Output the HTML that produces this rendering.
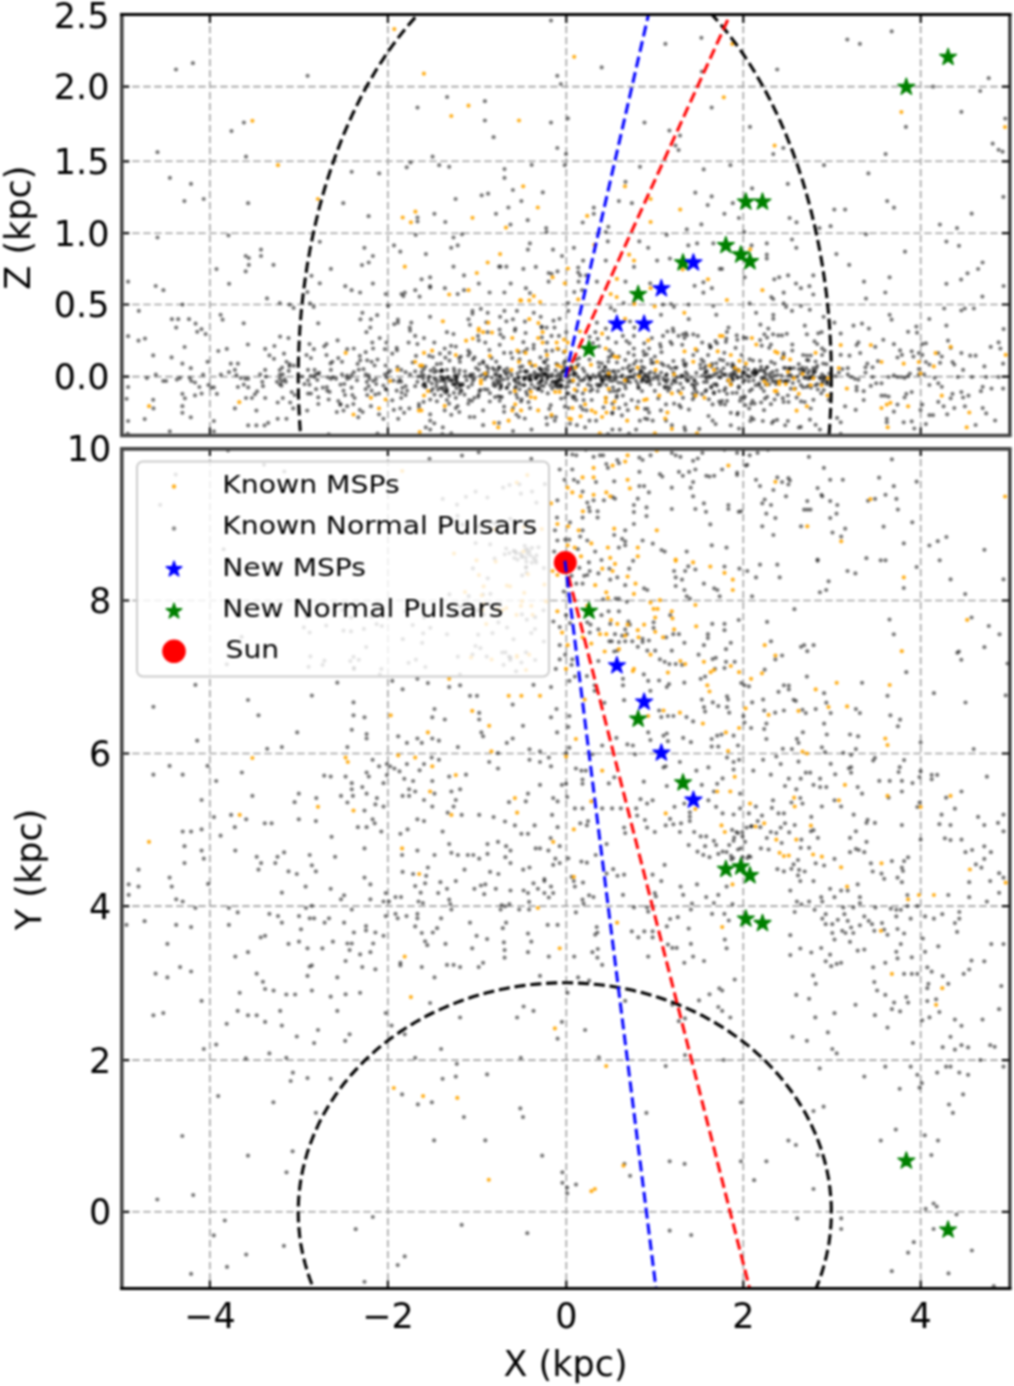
<!DOCTYPE html><html><head><meta charset="utf-8"><style>html,body{margin:0;padding:0;background:#fff;width:1014px;height:1386px;overflow:hidden}svg{display:block;filter:blur(0.8px)}text{font-family:'DejaVu Sans', 'Liberation Sans', sans-serif;fill:#000}.g{stroke:rgba(0,0,0,0.52);stroke-width:4.2;stroke-linecap:round;fill:none}.o{stroke:rgba(255,165,0,0.88);stroke-width:4.2;stroke-linecap:round;fill:none}.grid{stroke:#a2a2a2;stroke-width:1.6;stroke-dasharray:7.3 3.7;fill:none}.sp{stroke:#333;stroke-width:2.4;fill:none}.tk{stroke:#111;stroke-width:2.2;fill:none}.tl{font-size:35px}.lg{font-size:24.5px}</style></head><body><svg width="1014" height="1386" viewBox="0 0 1014 1386"><rect width="1014" height="1386" fill="#fff"/><defs><clipPath id="ct"><rect x="121.3" y="14.9" width="888.5" height="420.5"/></clipPath><clipPath id="cb"><rect x="121.3" y="448" width="888.5" height="840.4"/></clipPath></defs><g clip-path="url(#ct)"><path class="grid" d="M209.9 14.9V435.4M387.9 14.9V435.4M566.3 14.9V435.4M743.3 14.9V435.4M920.7 14.9V435.4M121.3 376.6H1009.9M121.3 304.5H1009.9M121.3 233.2H1009.9M121.3 161.3H1009.9M121.3 86.6H1009.9"/><g class="g"><path d="M176 69.5h0"/><path d="M192.9 63.2h0"/><path d="M307.6 75.8h0"/><path d="M243.9 122.6h0"/><path d="M231.5 131.1h0"/><path d="M157.5 152.2h0"/><path d="M246 156.7h0"/><path d="M169.9 177.9h0"/><path d="M191 183.9h0"/><path d="M184.4 201.1h0"/><path d="M203.7 199h0"/><path d="M248.1 203.2h0"/><path d="M351.7 171.8h0"/><path d="M379.2 173.4h0"/><path d="M343.3 203.2h0"/><path d="M368.6 216.2h0"/><path d="M551 20.6h0"/><path d="M601.7 67.4h0"/><path d="M557.3 75.8h0"/><path d="M560.8 84h0"/><path d="M447.1 97h0"/><path d="M417.5 107.6h0"/><path d="M484.9 101.2h0"/><path d="M484.9 120.5h0"/><path d="M551 122.6h0"/><path d="M567.9 118.4h0"/><path d="M493.6 137.2h0"/><path d="M557.3 148h0"/><path d="M566 154.1h0"/><path d="M432.6 156.7h0"/><path d="M410.6 162.5h0"/><path d="M406.7 167.3h0"/><path d="M439.2 165.2h0"/><path d="M449.2 166.8h0"/><path d="M531.7 164.9h0"/><path d="M564.7 165.2h0"/><path d="M504.5 169.1h0"/><path d="M504.5 177.9h0"/><path d="M640 166.8h0"/><path d="M644.5 122.6h0"/><path d="M625.5 181.8h0"/><path d="M512.9 190h0"/><path d="M542.8 192.4h0"/><path d="M481.7 195.3h0"/><path d="M488.1 193.7h0"/><path d="M455.6 199h0"/><path d="M521.4 201.1h0"/><path d="M508.4 207.5h0"/><path d="M618.9 201.1h0"/><path d="M631.9 203.2h0"/><path d="M434.4 213.8h0"/><path d="M496 213.8h0"/><path d="M417.5 217.5h0"/><path d="M417.5 221.5h0"/><path d="M445.3 222h0"/><path d="M527.7 220.2h0"/><path d="M593.8 207.7h0"/><path d="M593.8 213.8h0"/><path d="M582.7 222.5h0"/><path d="M510.5 224.6h0"/><path d="M546.2 228.1h0"/><path d="M608.3 226.8h0"/><path d="M665.4 43.9h0"/><path d="M701.4 37.8h0"/><path d="M701.9 71.6h0"/><path d="M777.2 69.5h0"/><path d="M847.3 39.6h0"/><path d="M859.9 43.9h0"/><path d="M891.7 31.4h0"/><path d="M711.7 107.6h0"/><path d="M669.4 130.6h0"/><path d="M680 135.6h0"/><path d="M675.5 145.6h0"/><path d="M678.6 150.1h0"/><path d="M750 126.9h0"/><path d="M783.3 148h0"/><path d="M773.3 154.1h0"/><path d="M885.6 154.1h0"/><path d="M905.9 126.9h0"/><path d="M703.7 169.4h0"/><path d="M730.4 165.2h0"/><path d="M824 165.2h0"/><path d="M868.4 173.4h0"/><path d="M787.8 183.9h0"/><path d="M752.1 188.4h0"/><path d="M695.3 192.7h0"/><path d="M711.7 196.4h0"/><path d="M707.7 205.1h0"/><path d="M732.8 203.2h0"/><path d="M724.4 213.8h0"/><path d="M738.9 218h0"/><path d="M701.4 224.4h0"/><path d="M686.8 229.4h0"/><path d="M789.6 218h0"/><path d="M796.5 222.3h0"/><path d="M834.3 209.6h0"/><path d="M845.1 209.6h0"/><path d="M830.6 226.2h0"/><path d="M887.2 201.1h0"/><path d="M894 207.7h0"/><path d="M819.5 228.1h0"/><path d="M933.1 86.7h0"/><path d="M988.7 78.2h0"/><path d="M980.2 91h0"/><path d="M961.4 111.9h0"/><path d="M1005.3 118.6h0"/><path d="M992.7 143.7h0"/><path d="M998.6 149.8h0"/><path d="M1002.6 151.7h0"/><path d="M1003.4 196.9h0"/><path d="M971.7 213.7h0"/><path d="M939.9 224.6h0"/><path d="M957 228.1h0"/><path d="M157.5 237.5h0"/><path d="M228.5 235.5h0"/><path d="M261 249.7h0"/><path d="M245.7 256h0"/><path d="M248.8 258h0"/><path d="M261 256h0"/><path d="M248.8 264.9h0"/><path d="M273.5 264.9h0"/><path d="M216.5 269.1h0"/><path d="M245.7 271.4h0"/><path d="M128.1 281.7h0"/><path d="M155.7 286h0"/><path d="M163.4 290.2h0"/><path d="M229.1 283.8h0"/><path d="M311.5 275.8h0"/><path d="M307.4 292.1h0"/><path d="M267 298.4h0"/><path d="M279.8 303h0"/><path d="M182.5 304.6h0"/><path d="M310 303.4h0"/><path d="M289.6 304.6h0"/><path d="M293.6 307.9h0"/><path d="M138.8 310.9h0"/><path d="M220.6 314.8h0"/><path d="M222.6 319.7h0"/><path d="M171.9 319.2h0"/><path d="M178.2 319.2h0"/><path d="M189 319.2h0"/><path d="M195.6 323.7h0"/><path d="M176.2 327.6h0"/><path d="M201.5 329.2h0"/><path d="M243.7 323.3h0"/><path d="M318.2 323.3h0"/><path d="M319.8 283.3h0"/><path d="M319.8 241.8h0"/><path d="M364.4 247.8h0"/><path d="M372.9 256h0"/><path d="M368.7 262.5h0"/><path d="M362 265.1h0"/><path d="M330.9 268.9h0"/><path d="M345.3 286.2h0"/><path d="M351.6 290.2h0"/><path d="M360.1 292.5h0"/><path d="M372.9 283.6h0"/><path d="M385.7 294.1h0"/><path d="M394 245.4h0"/><path d="M400.3 251.7h0"/><path d="M415.7 234.9h0"/><path d="M425.9 254.1h0"/><path d="M453.5 237.5h0"/><path d="M462 234.3h0"/><path d="M451.2 247.8h0"/><path d="M457.7 245.4h0"/><path d="M453.5 266.7h0"/><path d="M464 275.4h0"/><path d="M421.6 279.3h0"/><path d="M430.1 277.3h0"/><path d="M430.1 286.2h0"/><path d="M430.1 287.6h0"/><path d="M444.9 288.2h0"/><path d="M415.3 290.2h0"/><path d="M419.6 296.7h0"/><path d="M401.5 294.1h0"/><path d="M403.4 296.1h0"/><path d="M404.8 292.7h0"/><path d="M457.7 294.1h0"/><path d="M464 290.2h0"/><path d="M478.8 283.6h0"/><path d="M489.6 292.5h0"/><path d="M499.1 266.7h0"/><path d="M500.5 266.7h0"/><path d="M506.4 266.7h0"/><path d="M510.7 283.6h0"/><path d="M504.4 292.5h0"/><path d="M388.1 305.9h0"/><path d="M362.4 312.8h0"/><path d="M377.2 315.2h0"/><path d="M360.4 319.3h0"/><path d="M370.9 319.3h0"/><path d="M397.9 319.7h0"/><path d="M397.9 322.7h0"/><path d="M411.3 322.7h0"/><path d="M409.8 327.6h0"/><path d="M430.1 316.8h0"/><path d="M468.5 319.3h0"/><path d="M472.5 310.9h0"/><path d="M472.5 313.8h0"/><path d="M480.8 308.9h0"/><path d="M487.7 312.8h0"/><path d="M486.3 322.3h0"/><path d="M500.1 316.8h0"/><path d="M504.4 310.9h0"/><path d="M506.4 321.3h0"/><path d="M512.9 319.3h0"/><path d="M516.9 310.9h0"/><path d="M370.3 327.6h0"/><path d="M515.3 328.6h0"/><path d="M546.6 232h0"/><path d="M529.9 243.4h0"/><path d="M527.9 249.7h0"/><path d="M553 249.7h0"/><path d="M562 256h0"/><path d="M573.9 247.8h0"/><path d="M583.1 260.6h0"/><path d="M523.4 268.9h0"/><path d="M535.8 266.9h0"/><path d="M548.6 273h0"/><path d="M551.6 273.8h0"/><path d="M557.5 271.4h0"/><path d="M578.2 267.5h0"/><path d="M578.2 272.4h0"/><path d="M580.2 275.4h0"/><path d="M586.1 275.4h0"/><path d="M548.6 281.7h0"/><path d="M578.6 281.7h0"/><path d="M596.9 281.7h0"/><path d="M525.9 288.2h0"/><path d="M529.9 293.1h0"/><path d="M574.3 292.1h0"/><path d="M582.1 290.2h0"/><path d="M605.8 232h0"/><path d="M607.8 241.4h0"/><path d="M605.8 260.6h0"/><path d="M639.3 241.4h0"/><path d="M648.2 247.8h0"/><path d="M657.1 260.6h0"/><path d="M669.9 258.6h0"/><path d="M666.6 234.9h0"/><path d="M688.3 245.4h0"/><path d="M697.1 243.4h0"/><path d="M713.3 243.4h0"/><path d="M719.8 268.9h0"/><path d="M625.5 281.7h0"/><path d="M634 266.9h0"/><path d="M650.2 283.3h0"/><path d="M694.6 285.8h0"/><path d="M703.4 282.3h0"/><path d="M711.9 288.2h0"/><path d="M703.4 292.7h0"/><path d="M568.3 303h0"/><path d="M568.3 310.9h0"/><path d="M610.7 307.9h0"/><path d="M614.7 310.5h0"/><path d="M623.6 303h0"/><path d="M634 302h0"/><path d="M663 304.6h0"/><path d="M670.9 304h0"/><path d="M673.9 306.9h0"/><path d="M688.7 304.6h0"/><path d="M713.3 305.9h0"/><path d="M533.8 312.8h0"/><path d="M540.7 316.8h0"/><path d="M524.9 321.7h0"/><path d="M553.5 320.7h0"/><path d="M559.5 318.8h0"/><path d="M546.6 327.6h0"/><path d="M554.5 327.6h0"/><path d="M661 314.8h0"/><path d="M688.7 319.2h0"/><path d="M716.3 314.8h0"/><path d="M634.4 327.6h0"/><path d="M596.9 322.7h0"/><path d="M605.8 328.6h0"/><path d="M672.9 328.6h0"/><path d="M541.7 326.6h0"/><path d="M744.3 232h0"/><path d="M766.8 243.4h0"/><path d="M766.8 254.7h0"/><path d="M766.8 258.6h0"/><path d="M792 239.5h0"/><path d="M796.3 247.8h0"/><path d="M751.6 245.4h0"/><path d="M722 268.9h0"/><path d="M744.7 277.3h0"/><path d="M774.3 279.3h0"/><path d="M779.2 277.3h0"/><path d="M788.1 275.4h0"/><path d="M813.3 275.4h0"/><path d="M796 283.6h0"/><path d="M800.9 288.2h0"/><path d="M809.4 286.2h0"/><path d="M783.7 292.7h0"/><path d="M813.3 294.5h0"/><path d="M771.3 297.1h0"/><path d="M773.3 299h0"/><path d="M749.6 303.4h0"/><path d="M783.7 303.4h0"/><path d="M786.1 306.9h0"/><path d="M800.9 305.9h0"/><path d="M792 310.9h0"/><path d="M756.1 312.8h0"/><path d="M773.3 314.8h0"/><path d="M773.3 318.8h0"/><path d="M760.4 324.7h0"/><path d="M728.5 327.6h0"/><path d="M768.3 328.6h0"/><path d="M804.8 325.7h0"/><path d="M823.6 316.8h0"/><path d="M834.4 322.7h0"/><path d="M836.4 254.1h0"/><path d="M849.2 264.9h0"/><path d="M866 234.3h0"/><path d="M905 251.7h0"/><path d="M864 281.7h0"/><path d="M889.6 277.3h0"/><path d="M885.3 292.5h0"/><path d="M866 298.6h0"/><path d="M889.6 314.8h0"/><path d="M891.6 319.7h0"/><path d="M853.5 325.7h0"/><path d="M862 323.7h0"/><path d="M868.9 328.6h0"/><path d="M916.3 326.6h0"/><path d="M946.4 241.6h0"/><path d="M959 245.8h0"/><path d="M982.6 262.5h0"/><path d="M978.1 269h0"/><path d="M967.5 273.3h0"/><path d="M961.1 279.6h0"/><path d="M946.4 283.8h0"/><path d="M1003.6 286h0"/><path d="M982.4 296.6h0"/><path d="M944.2 308.5h0"/><path d="M961.3 310.5h0"/><path d="M964.8 308.5h0"/><path d="M973.9 308.5h0"/><path d="M929.3 319h0"/><path d="M946.4 325.6h0"/><path d="M1003.6 329.1h0"/><path d="M128.1 336.2h0"/><path d="M138.5 340.7h0"/><path d="M145 338.6h0"/><path d="M184.6 347h0"/><path d="M153.2 355.4h0"/><path d="M171.6 357.4h0"/><path d="M182.4 363.7h0"/><path d="M190.8 368.2h0"/><path d="M197.2 331.8h0"/><path d="M205.6 334.1h0"/><path d="M207.5 361.8h0"/><path d="M218.3 351h0"/><path d="M226.8 348.9h0"/><path d="M247.9 344.5h0"/><path d="M265.2 348.9h0"/><path d="M269.4 355.4h0"/><path d="M230.8 363.7h0"/><path d="M237.9 363.7h0"/><path d="M128.1 387h0"/><path d="M126.6 398.8h0"/><path d="M146.9 378.1h0"/><path d="M155.8 374.7h0"/><path d="M163.2 381h0"/><path d="M166.1 381h0"/><path d="M176.9 379.6h0"/><path d="M179.9 378.1h0"/><path d="M189.8 378.1h0"/><path d="M191.3 381h0"/><path d="M195 382.5h0"/><path d="M199.4 387h0"/><path d="M203.1 374.7h0"/><path d="M208.3 385h0"/><path d="M211.2 387.7h0"/><path d="M213.9 387.4h0"/><path d="M216.9 393.9h0"/><path d="M201.6 393.6h0"/><path d="M195 395.4h0"/><path d="M182.4 393.9h0"/><path d="M184.9 398.3h0"/><path d="M153.2 399.8h0"/><path d="M153.5 408.4h0"/><path d="M182.4 406.2h0"/><path d="M182.4 412.8h0"/><path d="M190.8 417.3h0"/><path d="M144.7 419.1h0"/><path d="M128.1 421h0"/><path d="M169.8 431.3h0"/><path d="M220.9 374.7h0"/><path d="M229 372.2h0"/><path d="M234.9 369.9h0"/><path d="M236.4 375.1h0"/><path d="M240.8 378.1h0"/><path d="M245.3 378.8h0"/><path d="M248.2 378.8h0"/><path d="M237.9 387h0"/><path d="M243.8 384.7h0"/><path d="M248.2 387.4h0"/><path d="M260.1 374.4h0"/><path d="M265.2 369.9h0"/><path d="M266 376.6h0"/><path d="M262.3 381.8h0"/><path d="M263 386.2h0"/><path d="M257.1 391.4h0"/><path d="M254.9 394.3h0"/><path d="M251.9 398h0"/><path d="M246 398h0"/><path d="M265.2 398h0"/><path d="M234.9 408.4h0"/><path d="M256.4 410.6h0"/><path d="M213.9 421h0"/><path d="M213.9 431.3h0"/><path d="M248.2 425.4h0"/><path d="M256.4 425.4h0"/><path d="M264.5 425.4h0"/><path d="M268.2 422.9h0"/><path d="M127.7 433.6h0"/><path d="M288.5 338.1h0"/><path d="M284 353.7h0"/><path d="M274 358.8h0"/><path d="M286.5 361.8h0"/><path d="M289.5 366.2h0"/><path d="M282.1 367.7h0"/><path d="M279.9 378.8h0"/><path d="M276.9 381.8h0"/><path d="M285.8 381.8h0"/><path d="M282.8 374.4h0"/><path d="M291.7 392.1h0"/><path d="M294.7 395.1h0"/><path d="M282.8 398h0"/><path d="M277.7 402.5h0"/><path d="M290.2 402.5h0"/><path d="M293.2 408.4h0"/><path d="M277.7 418.8h0"/><path d="M286.5 418.8h0"/><path d="M309.5 344.1h0"/><path d="M313.9 349.2h0"/><path d="M306.5 355.1h0"/><path d="M310.9 358.1h0"/><path d="M326.5 344.1h0"/><path d="M324.3 346.3h0"/><path d="M326.5 355.1h0"/><path d="M337.6 340.4h0"/><path d="M332.4 361.8h0"/><path d="M338.3 358.1h0"/><path d="M342 361.8h0"/><path d="M330.9 369.9h0"/><path d="M308 369.9h0"/><path d="M314.6 369.9h0"/><path d="M319.1 372.9h0"/><path d="M310.9 375.9h0"/><path d="M315.4 374.4h0"/><path d="M308 380.3h0"/><path d="M309.5 384.7h0"/><path d="M308 393.6h0"/><path d="M310.9 393.6h0"/><path d="M316.1 389.2h0"/><path d="M322.8 387.7h0"/><path d="M327.2 390.7h0"/><path d="M318.3 397.3h0"/><path d="M318.3 404h0"/><path d="M328.7 399.5h0"/><path d="M328 377.3h0"/><path d="M330.9 378.8h0"/><path d="M333.1 377.3h0"/><path d="M336.1 378.8h0"/><path d="M342 374.4h0"/><path d="M347.2 378.8h0"/><path d="M351.6 375.1h0"/><path d="M353.8 372.2h0"/><path d="M340.5 384.7h0"/><path d="M343.5 390.7h0"/><path d="M345 395.1h0"/><path d="M351.6 387.7h0"/><path d="M352.4 395.1h0"/><path d="M354.6 398h0"/><path d="M338.3 401h0"/><path d="M340.5 404h0"/><path d="M347.2 406.2h0"/><path d="M343.5 410.6h0"/><path d="M336.8 412.1h0"/><path d="M307.2 410.6h0"/><path d="M347.2 349.2h0"/><path d="M353.8 348.5h0"/><path d="M359.8 355.9h0"/><path d="M365.7 352.2h0"/><path d="M367.2 360.3h0"/><path d="M371.6 361.8h0"/><path d="M374.6 365.5h0"/><path d="M377.5 359.6h0"/><path d="M372.3 342.6h0"/><path d="M379.7 338.1h0"/><path d="M366.4 332.2h0"/><path d="M373.1 348.5h0"/><path d="M363.5 369.2h0"/><path d="M365.7 374.4h0"/><path d="M369.4 378.8h0"/><path d="M373.1 381h0"/><path d="M368.6 386.2h0"/><path d="M365.7 389.2h0"/><path d="M367.2 395.1h0"/><path d="M371.6 390.7h0"/><path d="M370.9 406.2h0"/><path d="M359.8 409.9h0"/><path d="M362.7 412.1h0"/><path d="M358.3 417.3h0"/><path d="M379 414.3h0"/><path d="M383.4 418.8h0"/><path d="M379 393.6h0"/><path d="M383.4 385.5h0"/><path d="M384.9 374.4h0"/><path d="M387.9 372.9h0"/><path d="M386.4 377.3h0"/><path d="M385.6 365.5h0"/><path d="M384.9 349.2h0"/><path d="M386.4 342.6h0"/><path d="M392.3 353.7h0"/><path d="M396.7 347.8h0"/><path d="M397.5 367h0"/><path d="M401.2 369.9h0"/><path d="M405.6 372.2h0"/><path d="M410.1 374.4h0"/><path d="M398.2 381.8h0"/><path d="M401.2 381.8h0"/><path d="M405.6 386.2h0"/><path d="M407.1 390.7h0"/><path d="M396.7 390.7h0"/><path d="M401.2 398h0"/><path d="M405.6 395.1h0"/><path d="M392.3 400.3h0"/><path d="M393.8 409.9h0"/><path d="M400.4 408.4h0"/><path d="M404.1 412.8h0"/><path d="M398.2 418.8h0"/><path d="M409.3 408.4h0"/><path d="M408.6 342.6h0"/><path d="M415.2 335.9h0"/><path d="M417.4 344.1h0"/><path d="M410.1 330.7h0"/><path d="M416 355.9h0"/><path d="M415.2 371.4h0"/><path d="M417.4 381.8h0"/><path d="M415.2 386.2h0"/><path d="M418.9 404h0"/><path d="M418.9 406.9h0"/><path d="M377.5 433.6h0"/><path d="M328.7 434.3h0"/><path d="M840.7 333.6h0"/><path d="M858.4 342.4h0"/><path d="M856.6 345.1h0"/><path d="M860.2 353.1h0"/><path d="M849.5 355.7h0"/><path d="M840.7 354.9h0"/><path d="M883.3 339.8h0"/><path d="M893.9 344.2h0"/><path d="M875.3 346.9h0"/><path d="M900.1 350.4h0"/><path d="M901.9 354.9h0"/><path d="M897.5 357.5h0"/><path d="M911.7 351.3h0"/><path d="M913.4 356.6h0"/><path d="M908.1 331.8h0"/><path d="M917 332.7h0"/><path d="M922.3 344.2h0"/><path d="M925.9 343.3h0"/><path d="M918.8 353.1h0"/><path d="M922.3 354.9h0"/><path d="M925.9 362h0"/><path d="M929.4 364.6h0"/><path d="M938.3 353.1h0"/><path d="M941.8 356.6h0"/><path d="M940.1 362.8h0"/><path d="M948 340.7h0"/><path d="M950.7 347.8h0"/><path d="M961.4 353.1h0"/><path d="M970.2 355.7h0"/><path d="M975.6 355.7h0"/><path d="M990.7 346.9h0"/><path d="M998.6 342.4h0"/><path d="M1000.4 348.6h0"/><path d="M1003.1 363.7h0"/><path d="M984.4 366.4h0"/><path d="M963.1 369.9h0"/><path d="M954.3 364.6h0"/><path d="M952.5 362h0"/><path d="M877.9 361.1h0"/><path d="M872.6 367.3h0"/><path d="M865.5 367.3h0"/><path d="M867.3 363.7h0"/><path d="M847.8 368.2h0"/><path d="M842.4 369.1h0"/><path d="M838.9 372.6h0"/><path d="M835.3 376.2h0"/><path d="M847.8 374.4h0"/><path d="M851.3 377h0"/><path d="M854.9 378.8h0"/><path d="M858.4 379.7h0"/><path d="M865.5 372.6h0"/><path d="M872.6 377h0"/><path d="M876.2 383.3h0"/><path d="M881.5 383.3h0"/><path d="M870.8 385.9h0"/><path d="M888.6 377h0"/><path d="M893.9 375.3h0"/><path d="M897.5 377h0"/><path d="M901 377h0"/><path d="M904.6 377.9h0"/><path d="M908.1 376.2h0"/><path d="M909.9 373.5h0"/><path d="M918.8 369.1h0"/><path d="M918.8 374.4h0"/><path d="M924.1 374.4h0"/><path d="M934.7 377.9h0"/><path d="M938.3 383.3h0"/><path d="M941.8 386.8h0"/><path d="M929.4 385h0"/><path d="M957.8 377h0"/><path d="M972 377h0"/><path d="M986.2 377h0"/><path d="M998.6 377h0"/><path d="M1003.1 388.6h0"/><path d="M982.7 386.8h0"/><path d="M991.5 388.6h0"/><path d="M980.9 391.2h0"/><path d="M968.5 395.7h0"/><path d="M961.4 392.1h0"/><path d="M963.1 397.5h0"/><path d="M952.5 393.9h0"/><path d="M950.7 398.3h0"/><path d="M943.6 406.3h0"/><path d="M938.3 401.9h0"/><path d="M954.3 408.1h0"/><path d="M964.9 406.3h0"/><path d="M982.7 408.1h0"/><path d="M986.2 413.4h0"/><path d="M995.1 420.5h0"/><path d="M975.6 425h0"/><path d="M947.2 414.3h0"/><path d="M929.4 415.2h0"/><path d="M933 415.2h0"/><path d="M925.9 424.1h0"/><path d="M920.5 409.9h0"/><path d="M922.3 404.6h0"/><path d="M911.7 392.1h0"/><path d="M906.3 393.9h0"/><path d="M904.6 397.5h0"/><path d="M897.5 404.6h0"/><path d="M893.9 411.7h0"/><path d="M886.8 418.8h0"/><path d="M886.8 422.3h0"/><path d="M856.6 386.8h0"/><path d="M856.6 390.4h0"/><path d="M863.7 391.2h0"/><path d="M863.7 400.1h0"/><path d="M845.1 406.3h0"/><path d="M855.7 409.9h0"/><path d="M837.1 417.9h0"/><path d="M840.7 422.3h0"/><path d="M903.7 422.3h0"/><path d="M911.7 421.4h0"/><path d="M914.3 428.5h0"/><path d="M840.7 433.8h0"/><path d="M888.6 396.6h0"/><path d="M885 395.7h0"/><path d="M881.5 395.7h0"/><path d="M446.9 332.2h0"/><path d="M453.5 334.1h0"/><path d="M424 338.1h0"/><path d="M434.3 342.6h0"/><path d="M455.8 346.6h0"/><path d="M444.7 348.5h0"/><path d="M449.5 352.9h0"/><path d="M439.9 353.7h0"/><path d="M432.8 357h0"/><path d="M445.4 357.7h0"/><path d="M449.5 360.7h0"/><path d="M459.1 358.1h0"/><path d="M468.3 350.7h0"/><path d="M469.8 352.9h0"/><path d="M468.3 355.5h0"/><path d="M474.6 357.4h0"/><path d="M478.7 340.4h0"/><path d="M478 335.9h0"/><path d="M487.6 332.2h0"/><path d="M485.3 342.6h0"/><path d="M489.4 350h0"/><path d="M491.6 358.1h0"/><path d="M483.1 361.4h0"/><path d="M486.8 366.2h0"/><path d="M488.3 368.5h0"/><path d="M478.7 369.9h0"/><path d="M441 363.7h0"/><path d="M425.4 366.6h0"/><path d="M434.3 372.2h0"/><path d="M442.4 370.7h0"/><path d="M446.9 369.9h0"/><path d="M453.9 368.5h0"/><path d="M454.3 371.4h0"/><path d="M459.5 370.3h0"/><path d="M423.2 378.8h0"/><path d="M428.4 378.1h0"/><path d="M434.3 378.8h0"/><path d="M442.4 377.3h0"/><path d="M449.1 380.3h0"/><path d="M455.8 378.8h0"/><path d="M472 377.3h0"/><path d="M472.8 381h0"/><path d="M465.4 375.9h0"/><path d="M494.2 369.9h0"/><path d="M495 374.4h0"/><path d="M425.4 386h0"/><path d="M432.8 388.9h0"/><path d="M436.5 386h0"/><path d="M438 389.7h0"/><path d="M445.4 386h0"/><path d="M446.9 390.4h0"/><path d="M449.1 395.6h0"/><path d="M446.9 400h0"/><path d="M449.1 403.7h0"/><path d="M455 384.5h0"/><path d="M456.5 388.2h0"/><path d="M459.5 393.4h0"/><path d="M455.8 397.8h0"/><path d="M462.4 385.2h0"/><path d="M468.3 387.1h0"/><path d="M479.4 391.1h0"/><path d="M478.7 394.8h0"/><path d="M484.6 389.3h0"/><path d="M487.6 389.7h0"/><path d="M474.3 397.8h0"/><path d="M472 400.8h0"/><path d="M468.3 403.7h0"/><path d="M469.1 400h0"/><path d="M489.8 401.5h0"/><path d="M495 397.1h0"/><path d="M493.5 385.2h0"/><path d="M441 395.6h0"/><path d="M430.2 399.6h0"/><path d="M423.6 401.9h0"/><path d="M455.8 408.1h0"/><path d="M451.3 414.8h0"/><path d="M444.7 410.4h0"/><path d="M430.2 414.4h0"/><path d="M430.2 420.7h0"/><path d="M434.3 423.3h0"/><path d="M425.8 427.4h0"/><path d="M430.2 429.6h0"/><path d="M442.8 427.4h0"/><path d="M469.8 417h0"/><path d="M474.3 417h0"/><path d="M483.1 410.4h0"/><path d="M483.1 425.2h0"/><path d="M442.4 434h0"/><path d="M451.3 433.3h0"/><path d="M500.4 334.4h0"/><path d="M503.4 337.4h0"/><path d="M514.9 330.7h0"/><path d="M525.6 333h0"/><path d="M499.7 344.8h0"/><path d="M523.4 342.2h0"/><path d="M533.7 344.8h0"/><path d="M541.9 337.4h0"/><path d="M547 342.6h0"/><path d="M551.5 335.9h0"/><path d="M558.9 335.9h0"/><path d="M566.3 332.2h0"/><path d="M504.1 352.9h0"/><path d="M510.8 352.9h0"/><path d="M512.3 358.1h0"/><path d="M518.9 352.2h0"/><path d="M540.4 357.4h0"/><path d="M547.8 366.2h0"/><path d="M552.2 350.7h0"/><path d="M558.1 349.2h0"/><path d="M564 352.2h0"/><path d="M564.8 361.1h0"/><path d="M499.7 367.7h0"/><path d="M507.1 368.5h0"/><path d="M506.4 374.4h0"/><path d="M507.8 378.8h0"/><path d="M514.5 380.3h0"/><path d="M511.5 374.4h0"/><path d="M519.7 367h0"/><path d="M520.4 371.4h0"/><path d="M527.1 371.4h0"/><path d="M529.3 375.9h0"/><path d="M530.8 380.3h0"/><path d="M534.5 372.2h0"/><path d="M537.4 375.9h0"/><path d="M541.9 378.1h0"/><path d="M547.8 377.3h0"/><path d="M552.2 374.4h0"/><path d="M556.7 375.9h0"/><path d="M558.9 380.3h0"/><path d="M562.6 371.4h0"/><path d="M496.7 374.4h0"/><path d="M500.4 380.3h0"/><path d="M518.2 377.3h0"/><path d="M524.1 378.1h0"/><path d="M501.2 387.1h0"/><path d="M507.1 387.4h0"/><path d="M510.1 392.6h0"/><path d="M516 386.7h0"/><path d="M523.4 385.2h0"/><path d="M531.5 384.5h0"/><path d="M534.5 387.4h0"/><path d="M538.9 388.9h0"/><path d="M541.9 391.1h0"/><path d="M547.8 393.4h0"/><path d="M554.4 386h0"/><path d="M561.1 398.5h0"/><path d="M567 393.4h0"/><path d="M565.5 387.4h0"/><path d="M498.2 396.3h0"/><path d="M501.9 397.1h0"/><path d="M499.7 400.8h0"/><path d="M517.4 397.8h0"/><path d="M521.1 401.5h0"/><path d="M527.1 394.8h0"/><path d="M528.5 402.2h0"/><path d="M530 408.1h0"/><path d="M504.1 406.7h0"/><path d="M504.1 411.8h0"/><path d="M513 408.1h0"/><path d="M518.9 417h0"/><path d="M524.8 418.5h0"/><path d="M550.7 405.2h0"/><path d="M549.3 408.9h0"/><path d="M546.3 417.8h0"/><path d="M547 424.4h0"/><path d="M555.9 417h0"/><path d="M564.8 406.7h0"/><path d="M568.5 408.1h0"/><path d="M499 422.9h0"/><path d="M513 431.1h0"/><path d="M531.5 429.6h0"/><path d="M570 423.7h0"/><path d="M597.6 338.9h0"/><path d="M599.1 346.3h0"/><path d="M608 338.1h0"/><path d="M616.1 342.6h0"/><path d="M622.8 335.9h0"/><path d="M626.5 341.1h0"/><path d="M629.4 343.3h0"/><path d="M633.9 335.9h0"/><path d="M633.9 348.5h0"/><path d="M633.9 355.1h0"/><path d="M644.2 343.3h0"/><path d="M643.5 351.4h0"/><path d="M644.2 355.1h0"/><path d="M609.5 350.7h0"/><path d="M612.4 353.7h0"/><path d="M616.9 362.5h0"/><path d="M636.1 361.1h0"/><path d="M641.3 361.1h0"/><path d="M579.1 358.1h0"/><path d="M589.5 359.6h0"/><path d="M598.4 362.5h0"/><path d="M599.1 367h0"/><path d="M605 367h0"/><path d="M602.8 370.7h0"/><path d="M582.8 368.5h0"/><path d="M584.3 371.4h0"/><path d="M587.3 375.1h0"/><path d="M590.2 378.1h0"/><path d="M595.4 377.3h0"/><path d="M598.4 375.1h0"/><path d="M609.5 377.3h0"/><path d="M615.4 374.4h0"/><path d="M621.3 376.6h0"/><path d="M622.8 368.5h0"/><path d="M629.4 365.5h0"/><path d="M630.2 371.4h0"/><path d="M634.6 374.4h0"/><path d="M640.5 371.4h0"/><path d="M642.7 378.1h0"/><path d="M645 374.4h0"/><path d="M573.2 374.4h0"/><path d="M578.4 377.3h0"/><path d="M582.8 380.3h0"/><path d="M602.8 380.3h0"/><path d="M612.4 381h0"/><path d="M627.2 380.3h0"/><path d="M636.1 381h0"/><path d="M595.4 332.2h0"/><path d="M588 384.5h0"/><path d="M596.9 384.5h0"/><path d="M590.2 391.1h0"/><path d="M597.6 391.1h0"/><path d="M576.9 391.1h0"/><path d="M582.8 393.4h0"/><path d="M572.5 396.3h0"/><path d="M576.2 400h0"/><path d="M583.6 400h0"/><path d="M591.7 400h0"/><path d="M580.6 406.7h0"/><path d="M582.8 409.6h0"/><path d="M586.5 410.4h0"/><path d="M603.5 407.4h0"/><path d="M605.8 397.8h0"/><path d="M612.4 403.7h0"/><path d="M612.4 412.6h0"/><path d="M616.9 395.6h0"/><path d="M619.1 389.7h0"/><path d="M622.8 395.6h0"/><path d="M625 385.2h0"/><path d="M625.7 404.4h0"/><path d="M619.1 408.1h0"/><path d="M631.7 400h0"/><path d="M638.3 401.5h0"/><path d="M636.8 407.4h0"/><path d="M642 391.1h0"/><path d="M645 408.9h0"/><path d="M645 418.5h0"/><path d="M589.5 420.7h0"/><path d="M596.1 420.7h0"/><path d="M576.9 425.2h0"/><path d="M585.1 427.4h0"/><path d="M612.4 429.6h0"/><path d="M619.8 429.6h0"/><path d="M636.1 429.6h0"/><path d="M639.8 420.7h0"/><path d="M608 434h0"/><path d="M651.9 338.1h0"/><path d="M663 335.9h0"/><path d="M667.4 331.5h0"/><path d="M673.4 331.5h0"/><path d="M678.5 335.9h0"/><path d="M683 334.4h0"/><path d="M684.5 338.1h0"/><path d="M685.9 333h0"/><path d="M693.3 334.4h0"/><path d="M697.8 335.9h0"/><path d="M670.4 341.8h0"/><path d="M671.9 344.1h0"/><path d="M660.1 344.1h0"/><path d="M660.8 347h0"/><path d="M661.5 352.2h0"/><path d="M649 348.5h0"/><path d="M646.7 354.4h0"/><path d="M651.2 359.6h0"/><path d="M654.9 356.6h0"/><path d="M661.5 363.3h0"/><path d="M682.2 344.8h0"/><path d="M693.3 355.1h0"/><path d="M697 350.7h0"/><path d="M702.2 342.6h0"/><path d="M709.6 344.8h0"/><path d="M715.5 341.1h0"/><path d="M717 343.3h0"/><path d="M708.1 355.1h0"/><path d="M701.5 359.6h0"/><path d="M716.3 363.3h0"/><path d="M720 359.6h0"/><path d="M668.2 366.2h0"/><path d="M671.1 368.5h0"/><path d="M685.2 366.2h0"/><path d="M650.4 372.2h0"/><path d="M648.2 377.3h0"/><path d="M653.4 378.8h0"/><path d="M658.6 375.9h0"/><path d="M665.2 380.3h0"/><path d="M666.7 374.4h0"/><path d="M677.1 377.3h0"/><path d="M683 375.9h0"/><path d="M687.4 374.4h0"/><path d="M691.1 377.3h0"/><path d="M696.3 372.9h0"/><path d="M700.7 368.5h0"/><path d="M704.4 368.5h0"/><path d="M702.2 375.9h0"/><path d="M706.7 378.8h0"/><path d="M712.6 375.9h0"/><path d="M717 368.5h0"/><path d="M719.2 377.3h0"/><path d="M687.4 381h0"/><path d="M694.8 381h0"/><path d="M650.4 384.5h0"/><path d="M664.5 386.7h0"/><path d="M669.7 388.2h0"/><path d="M678.5 391.1h0"/><path d="M683 397.8h0"/><path d="M691.9 384.5h0"/><path d="M694.8 389.7h0"/><path d="M711.1 386.7h0"/><path d="M714 393.4h0"/><path d="M719.2 391.1h0"/><path d="M708.9 399.3h0"/><path d="M712.6 404.4h0"/><path d="M719.2 401.5h0"/><path d="M666 404.4h0"/><path d="M674.1 403.7h0"/><path d="M679.3 405.2h0"/><path d="M680.8 407.4h0"/><path d="M688.9 409.6h0"/><path d="M660.8 410.4h0"/><path d="M647.5 408.9h0"/><path d="M649 412.6h0"/><path d="M647.5 419.2h0"/><path d="M652.7 420.7h0"/><path d="M666 420.7h0"/><path d="M671.9 425.2h0"/><path d="M684.5 427.4h0"/><path d="M685.2 430.3h0"/><path d="M699.3 428.9h0"/><path d="M712.6 420.7h0"/><path d="M726.4 338.7h0"/><path d="M725.9 341.9h0"/><path d="M736.7 335.4h0"/><path d="M737.3 339.8h0"/><path d="M743.8 337.6h0"/><path d="M746.5 338.1h0"/><path d="M735.6 347.9h0"/><path d="M761.7 345.7h0"/><path d="M770.9 344.6h0"/><path d="M764.4 334.3h0"/><path d="M767.1 337.6h0"/><path d="M773.1 334.3h0"/><path d="M724.3 352.8h0"/><path d="M741.6 355h0"/><path d="M749.7 359.3h0"/><path d="M760.1 360.9h0"/><path d="M761.1 366.9h0"/><path d="M774.7 363.6h0"/><path d="M723.2 360.4h0"/><path d="M727.5 364.2h0"/><path d="M734.6 371.2h0"/><path d="M738.4 370.1h0"/><path d="M744.3 372.3h0"/><path d="M748.1 369.6h0"/><path d="M752.5 372.3h0"/><path d="M756.3 373.4h0"/><path d="M759 370.7h0"/><path d="M766 374.5h0"/><path d="M769.8 376.6h0"/><path d="M774.2 375.6h0"/><path d="M724.3 375h0"/><path d="M732.4 373.4h0"/><path d="M732.9 379.9h0"/><path d="M737.3 377.7h0"/><path d="M741.6 377.2h0"/><path d="M749.7 376.6h0"/><path d="M753.5 380.4h0"/><path d="M761.7 378.8h0"/><path d="M767.6 380.4h0"/><path d="M772 378.8h0"/><path d="M738.9 386.3h0"/><path d="M755.7 385.2h0"/><path d="M759 385.2h0"/><path d="M749.7 391.1h0"/><path d="M763.9 391.1h0"/><path d="M724.3 390.6h0"/><path d="M727 393.8h0"/><path d="M722.1 400.9h0"/><path d="M727 400.9h0"/><path d="M736.7 392.8h0"/><path d="M741.1 397.6h0"/><path d="M744.9 396.6h0"/><path d="M740 400.9h0"/><path d="M745.4 405.2h0"/><path d="M749.2 408.5h0"/><path d="M752.5 400.9h0"/><path d="M754.6 403.6h0"/><path d="M761.1 402.5h0"/><path d="M764.9 398.7h0"/><path d="M770.9 404.2h0"/><path d="M730.8 412.8h0"/><path d="M737.8 412.8h0"/><path d="M737.3 414.5h0"/><path d="M751.4 417.7h0"/><path d="M750.3 421h0"/><path d="M753.5 419.3h0"/><path d="M762.8 421h0"/><path d="M773.6 421h0"/><path d="M772 423.1h0"/><path d="M730.8 425.3h0"/><path d="M778.2 335.4h0"/><path d="M782 335.4h0"/><path d="M786.8 333.8h0"/><path d="M806.9 334.3h0"/><path d="M818.3 333.3h0"/><path d="M821.6 332.2h0"/><path d="M814.5 341.4h0"/><path d="M792.3 344.6h0"/><path d="M792.3 350.6h0"/><path d="M783.6 353.3h0"/><path d="M783.6 356h0"/><path d="M803.1 355h0"/><path d="M806.9 355.5h0"/><path d="M810.7 355.5h0"/><path d="M808.5 360.4h0"/><path d="M815.6 361.5h0"/><path d="M822.1 348.4h0"/><path d="M822.1 355h0"/><path d="M823.2 363.6h0"/><path d="M826.4 364.2h0"/><path d="M798.8 364.2h0"/><path d="M785.8 368h0"/><path d="M789.6 369.1h0"/><path d="M793.9 368h0"/><path d="M798.8 369.1h0"/><path d="M806.4 368h0"/><path d="M814 372.3h0"/><path d="M777.6 375h0"/><path d="M781.4 375.6h0"/><path d="M788.5 375.6h0"/><path d="M797.2 376.6h0"/><path d="M804.2 377.7h0"/><path d="M808.5 378.8h0"/><path d="M820.5 377.7h0"/><path d="M824.8 377.7h0"/><path d="M779.3 381h0"/><path d="M785.8 381h0"/><path d="M798.8 381h0"/><path d="M801 385.2h0"/><path d="M803.1 387.3h0"/><path d="M787.9 395.5h0"/><path d="M783.6 402h0"/><path d="M788.5 402h0"/><path d="M796.6 397.6h0"/><path d="M801 401.4h0"/><path d="M804.7 402h0"/><path d="M810.7 408.5h0"/><path d="M813.4 399.8h0"/><path d="M817.8 389.5h0"/><path d="M823.7 390.1h0"/><path d="M777.1 419.9h0"/><path d="M787.9 421h0"/><path d="M785.2 425.3h0"/><path d="M798.8 427.5h0"/><path d="M815.6 424.8h0"/><path d="M819.9 429.6h0"/><path d="M777.6 394.4h0"/><path d="M368.6 375.4h0"/><path d="M281.9 381.5h0"/><path d="M279.7 370h0"/><path d="M347.1 375.7h0"/><path d="M281.5 385.7h0"/><path d="M284.6 379.4h0"/><path d="M289.6 364.1h0"/><path d="M304.5 384.2h0"/><path d="M357.6 363.9h0"/><path d="M330.5 363.4h0"/><path d="M399.8 379.8h0"/><path d="M314.4 377h0"/><path d="M317.3 379.9h0"/><path d="M393.4 380.6h0"/><path d="M366.8 381.9h0"/><path d="M326.9 387h0"/><path d="M279.9 374.6h0"/><path d="M301.9 376.5h0"/><path d="M318.1 373.8h0"/><path d="M358.8 369.7h0"/><path d="M390.2 370.9h0"/><path d="M375.8 379.4h0"/><path d="M349.8 377.8h0"/><path d="M402.3 387.8h0"/><path d="M418 376.6h0"/><path d="M288.7 370.9h0"/><path d="M293.8 365.7h0"/><path d="M344.3 384h0"/><path d="M385.7 388.9h0"/><path d="M357 380.3h0"/><path d="M375.3 394.6h0"/><path d="M360.2 360.3h0"/><path d="M397 350.3h0"/><path d="M412.7 362.5h0"/><path d="M280.1 336.6h0"/><path d="M376.2 384.1h0"/><path d="M394.3 324.2h0"/><path d="M313.7 306.9h0"/><path d="M274.4 346h0"/><path d="M340.3 404.8h0"/><path d="M279.8 384.3h0"/><path d="M386.2 389.6h0"/><path d="M329.6 391.9h0"/><path d="M401.7 392.7h0"/><path d="M353.4 404.1h0"/><path d="M553.5 381.6h0"/><path d="M462.8 384.1h0"/><path d="M483.3 362.9h0"/><path d="M564.7 366.9h0"/><path d="M443.6 390.3h0"/><path d="M456 380h0"/><path d="M493.7 382.6h0"/><path d="M421.6 372.1h0"/><path d="M483.8 374.1h0"/><path d="M564 370.4h0"/><path d="M524.6 385h0"/><path d="M522.4 366.4h0"/><path d="M429.1 376.3h0"/><path d="M552.2 388.6h0"/><path d="M540.7 369.2h0"/><path d="M436.5 371.1h0"/><path d="M516.1 382.5h0"/><path d="M452.3 380.2h0"/><path d="M445.3 378.5h0"/><path d="M421 376h0"/><path d="M443.7 379.6h0"/><path d="M424.8 383.5h0"/><path d="M552.1 381.9h0"/><path d="M458.8 374h0"/><path d="M473.1 374.4h0"/><path d="M548.3 374.7h0"/><path d="M570 380.5h0"/><path d="M433.9 368.4h0"/><path d="M436.3 379.4h0"/><path d="M545.3 374h0"/><path d="M445.2 382.6h0"/><path d="M500.2 396.8h0"/><path d="M443 380.2h0"/><path d="M500.2 375.6h0"/><path d="M567.8 376.9h0"/><path d="M460.2 385.5h0"/><path d="M476 368.1h0"/><path d="M500.9 384.2h0"/><path d="M537.9 389.3h0"/><path d="M542.7 374.7h0"/><path d="M568.7 382.4h0"/><path d="M543.7 386.1h0"/><path d="M532 365.8h0"/><path d="M474.3 378.8h0"/><path d="M425.3 387h0"/><path d="M459.9 383.8h0"/><path d="M524.9 378.5h0"/><path d="M561.6 385.8h0"/><path d="M569.2 375h0"/><path d="M454.1 384.7h0"/><path d="M455 375.3h0"/><path d="M514.6 379.2h0"/><path d="M556 382.5h0"/><path d="M518.9 382.3h0"/><path d="M540.9 369.7h0"/><path d="M557.5 387.5h0"/><path d="M538.3 383.4h0"/><path d="M447.8 377.4h0"/><path d="M539.4 368.3h0"/><path d="M566.7 370.3h0"/><path d="M480.4 389.9h0"/><path d="M529.7 361.6h0"/><path d="M446.5 388.7h0"/><path d="M556.7 380.6h0"/><path d="M542 380.7h0"/><path d="M568 386.5h0"/><path d="M519.6 389.3h0"/><path d="M440.6 371.4h0"/><path d="M423.1 385.5h0"/><path d="M500 388.8h0"/><path d="M561 375.3h0"/><path d="M544.9 362.6h0"/><path d="M452.7 384h0"/><path d="M457.1 377.3h0"/><path d="M509 384.1h0"/><path d="M440.7 376.9h0"/><path d="M557.5 385.7h0"/><path d="M508.5 372h0"/><path d="M556.6 384.4h0"/><path d="M496.2 361.7h0"/><path d="M500.8 386h0"/><path d="M487 375.9h0"/><path d="M448.5 377.2h0"/><path d="M446.9 391.7h0"/><path d="M492 377.8h0"/><path d="M469.9 375.8h0"/><path d="M498.8 367.3h0"/><path d="M436.9 364.2h0"/><path d="M505 372.6h0"/><path d="M536.8 377.5h0"/><path d="M497.2 383.8h0"/><path d="M557.9 364.9h0"/><path d="M487.5 372.3h0"/><path d="M497.8 370.2h0"/><path d="M524.9 371.2h0"/><path d="M492.7 368h0"/><path d="M562.2 380.3h0"/><path d="M562.3 372.3h0"/><path d="M459.9 361.9h0"/><path d="M547 359.6h0"/><path d="M441.6 370.4h0"/><path d="M431.9 383.6h0"/><path d="M457.1 383.4h0"/><path d="M538.6 388.1h0"/><path d="M555.6 382.7h0"/><path d="M520 384.6h0"/><path d="M442.4 387.9h0"/><path d="M453.9 392.9h0"/><path d="M563.9 363.3h0"/><path d="M569.5 370h0"/><path d="M545.9 382.9h0"/><path d="M498.3 381.9h0"/><path d="M471.9 384.6h0"/><path d="M529.3 379.7h0"/><path d="M423.9 384h0"/><path d="M423.7 369.3h0"/><path d="M470.7 374.5h0"/><path d="M430.6 370.6h0"/><path d="M568.8 370.7h0"/><path d="M436.7 382.5h0"/><path d="M460.8 356.7h0"/><path d="M461.6 390.9h0"/><path d="M440.4 380.8h0"/><path d="M543.8 361.8h0"/><path d="M459.8 385.7h0"/><path d="M506.6 388h0"/><path d="M526.1 391.9h0"/><path d="M524.2 379.7h0"/><path d="M484.8 378.9h0"/><path d="M516.2 394.4h0"/><path d="M541.2 385.7h0"/><path d="M431 391h0"/><path d="M550.4 385.3h0"/><path d="M504 370.4h0"/><path d="M560 379.5h0"/><path d="M500 376.9h0"/><path d="M456.8 381.6h0"/><path d="M428.6 381.1h0"/><path d="M451.3 380.4h0"/><path d="M534.9 374.8h0"/><path d="M464.5 394.7h0"/><path d="M473.1 359.4h0"/><path d="M423.7 375h0"/><path d="M531 375h0"/><path d="M503.7 379.4h0"/><path d="M561.2 385.5h0"/><path d="M436.9 401.3h0"/><path d="M495.3 386.2h0"/><path d="M546.2 350.9h0"/><path d="M524.2 351.7h0"/><path d="M568.4 393.5h0"/><path d="M527 349h0"/><path d="M516.4 414.5h0"/><path d="M429.2 355.9h0"/><path d="M440.5 388h0"/><path d="M459.3 412.1h0"/><path d="M445.5 392.7h0"/><path d="M551.6 416.4h0"/><path d="M521.6 399.3h0"/><path d="M465 371.3h0"/><path d="M489.9 393.2h0"/><path d="M460.5 389.9h0"/><path d="M565.3 397.7h0"/><path d="M457.7 406h0"/><path d="M565.9 369.6h0"/><path d="M421.2 366.4h0"/><path d="M478.2 396.9h0"/><path d="M451.1 345.8h0"/><path d="M496.7 379.7h0"/><path d="M434.5 394.6h0"/><path d="M480.9 375.6h0"/><path d="M466.6 380.2h0"/><path d="M455.9 376.4h0"/><path d="M533.6 348.6h0"/><path d="M519.6 359.3h0"/><path d="M479.4 364.1h0"/><path d="M469.9 324.8h0"/><path d="M529.6 389.2h0"/><path d="M517.5 373.6h0"/><path d="M554.8 420.7h0"/><path d="M515.1 387.9h0"/><path d="M441.9 370.4h0"/><path d="M499.6 329.5h0"/><path d="M541.7 327.6h0"/><path d="M545 373.7h0"/><path d="M673.4 361h0"/><path d="M675 367.8h0"/><path d="M591 377.7h0"/><path d="M625.1 379.6h0"/><path d="M654.8 390.9h0"/><path d="M665.2 387.9h0"/><path d="M644.4 367.9h0"/><path d="M571.5 367.7h0"/><path d="M646.4 381.8h0"/><path d="M651.3 363.1h0"/><path d="M681.5 375.6h0"/><path d="M608.8 374.6h0"/><path d="M680.4 383.7h0"/><path d="M601.8 380.6h0"/><path d="M645.1 375.8h0"/><path d="M628.4 352.9h0"/><path d="M686 363.9h0"/><path d="M663.5 379.2h0"/><path d="M593.1 375.1h0"/><path d="M609.1 374.6h0"/><path d="M656.2 377.1h0"/><path d="M572.9 369.7h0"/><path d="M671.8 384h0"/><path d="M674.8 380h0"/><path d="M648.5 374h0"/><path d="M640.7 370.7h0"/><path d="M705 373h0"/><path d="M600.9 378.3h0"/><path d="M573.6 398.3h0"/><path d="M639.8 374.5h0"/><path d="M638.4 387.4h0"/><path d="M611.3 356h0"/><path d="M602.6 382.8h0"/><path d="M658.2 398.4h0"/><path d="M713.9 384.3h0"/><path d="M590.9 385.9h0"/><path d="M704 382h0"/><path d="M676.5 367.7h0"/><path d="M643.9 379.6h0"/><path d="M574.7 396.5h0"/><path d="M638.6 387.9h0"/><path d="M616.3 377.6h0"/><path d="M618.4 382.6h0"/><path d="M697 383.8h0"/><path d="M696.9 392.4h0"/><path d="M589 377.6h0"/><path d="M706.2 390.1h0"/><path d="M614.5 371.1h0"/><path d="M720.8 371.2h0"/><path d="M659.4 383.9h0"/><path d="M612.3 371.3h0"/><path d="M578.2 384.7h0"/><path d="M613.8 391.1h0"/><path d="M711.3 387.6h0"/><path d="M647.6 377.4h0"/><path d="M599.5 384.5h0"/><path d="M703.6 361.7h0"/><path d="M692.8 393.5h0"/><path d="M712.1 363.9h0"/><path d="M653.4 362.8h0"/><path d="M680.9 376.9h0"/><path d="M638.6 374.6h0"/><path d="M613.9 377.6h0"/><path d="M578.3 364.5h0"/><path d="M641.8 381.6h0"/><path d="M622.5 375.3h0"/><path d="M717.4 373h0"/><path d="M610 391.5h0"/><path d="M654.6 373.2h0"/><path d="M630.2 371.1h0"/><path d="M602.2 380.1h0"/><path d="M706.9 382h0"/><path d="M706.9 371.1h0"/><path d="M720.5 377.5h0"/><path d="M599.9 372.7h0"/><path d="M584.6 378.9h0"/><path d="M606.9 375.3h0"/><path d="M609.8 380.7h0"/><path d="M683.4 360.4h0"/><path d="M632.9 369.4h0"/><path d="M627.5 368h0"/><path d="M621.7 383h0"/><path d="M716.2 384.1h0"/><path d="M589.9 380.2h0"/><path d="M700.4 364.7h0"/><path d="M603.4 377.1h0"/><path d="M631 376.5h0"/><path d="M637.9 384.1h0"/><path d="M701.9 394.2h0"/><path d="M574.3 372.4h0"/><path d="M705.4 391.3h0"/><path d="M642 380.2h0"/><path d="M629.7 377.3h0"/><path d="M710 377.3h0"/><path d="M716.8 385.5h0"/><path d="M608.3 361.7h0"/><path d="M649.4 381.4h0"/><path d="M673.3 380.7h0"/><path d="M668.1 390.8h0"/><path d="M685.7 372.2h0"/><path d="M576.9 366.4h0"/><path d="M688.3 380.4h0"/><path d="M667.8 379.6h0"/><path d="M616.6 397.5h0"/><path d="M666.4 382.2h0"/><path d="M675.8 382.3h0"/><path d="M649.7 380h0"/><path d="M658.4 379.6h0"/><path d="M661.2 372.5h0"/><path d="M572.6 381.5h0"/><path d="M714.8 374.2h0"/><path d="M667.7 386.9h0"/><path d="M606.2 385h0"/><path d="M608.1 370.6h0"/><path d="M617.1 391h0"/><path d="M574.3 374h0"/><path d="M634 363.9h0"/><path d="M609.6 377.5h0"/><path d="M605 367.2h0"/><path d="M576.1 359.6h0"/><path d="M673.4 372.5h0"/><path d="M600.7 385.4h0"/><path d="M646.7 381.7h0"/><path d="M601.8 363.3h0"/><path d="M694 385h0"/><path d="M605.6 375.9h0"/><path d="M615.2 380.1h0"/><path d="M713.8 392.4h0"/><path d="M604.5 371.6h0"/><path d="M633.6 377.6h0"/><path d="M593 343.1h0"/><path d="M630 321.5h0"/><path d="M592.3 389.6h0"/><path d="M630 382.3h0"/><path d="M705.7 376.8h0"/><path d="M720.6 404.2h0"/><path d="M710.7 346.9h0"/><path d="M711.4 366.4h0"/><path d="M682.9 388.1h0"/><path d="M627.8 410.2h0"/><path d="M627.1 381.4h0"/><path d="M571.4 366.5h0"/><path d="M613 387.3h0"/><path d="M589.6 336.9h0"/><path d="M715.6 424.1h0"/><path d="M694.2 380.2h0"/><path d="M694.3 396.6h0"/><path d="M642 366.8h0"/><path d="M626.9 377.3h0"/><path d="M625.6 388.3h0"/><path d="M705.5 366.1h0"/><path d="M692.8 399.3h0"/><path d="M686 378.9h0"/><path d="M580.4 380.4h0"/><path d="M709 375.7h0"/><path d="M705.8 372.2h0"/><path d="M621.9 415.4h0"/><path d="M663.5 365.2h0"/><path d="M618.5 371h0"/><path d="M612.3 413.6h0"/><path d="M708.5 416h0"/><path d="M666.1 375h0"/><path d="M606.1 379.2h0"/><path d="M642.3 372.1h0"/><path d="M629 433.7h0"/><path d="M608.7 357.4h0"/><path d="M710.2 347.6h0"/><path d="M598.4 386.4h0"/><path d="M694.4 387.3h0"/><path d="M686.9 335.3h0"/><path d="M618.9 356.6h0"/><path d="M625.3 360.1h0"/><path d="M600.6 376h0"/><path d="M683.9 364.1h0"/><path d="M576.1 374.2h0"/><path d="M781.2 380.7h0"/><path d="M817.3 365.8h0"/><path d="M828.7 399.8h0"/><path d="M731.5 377h0"/><path d="M775.3 381.2h0"/><path d="M746.5 375h0"/><path d="M766.4 367.9h0"/><path d="M802.5 367.6h0"/><path d="M813.3 368.2h0"/><path d="M812.7 375.1h0"/><path d="M753 373.5h0"/><path d="M801.4 369.5h0"/><path d="M742.7 373.9h0"/><path d="M737.7 377.5h0"/><path d="M817.4 384.2h0"/><path d="M764.2 370.3h0"/><path d="M829.2 373.6h0"/><path d="M809.1 370.9h0"/><path d="M792.2 377.1h0"/><path d="M772.7 381.6h0"/><path d="M810.3 377.2h0"/><path d="M725.4 388.2h0"/><path d="M753 360.6h0"/><path d="M827.1 381.7h0"/><path d="M784.6 381.4h0"/><path d="M815.4 385.3h0"/><path d="M770 373.7h0"/><path d="M824.1 376.4h0"/><path d="M732.5 393h0"/><path d="M744.7 367.1h0"/><path d="M761.2 370.3h0"/><path d="M748.8 381.2h0"/><path d="M786.3 382.1h0"/><path d="M722.2 373.9h0"/><path d="M756.7 372.5h0"/><path d="M755 374.9h0"/><path d="M743.2 372.2h0"/><path d="M727.9 380.6h0"/><path d="M732.1 366.5h0"/><path d="M790.7 368.4h0"/><path d="M730.9 384.4h0"/><path d="M765.7 384.6h0"/><path d="M751.9 389.3h0"/><path d="M755 369.5h0"/><path d="M782.8 398.2h0"/><path d="M815.2 371.6h0"/><path d="M829.6 384.7h0"/><path d="M800.4 373.5h0"/><path d="M743.2 381.9h0"/><path d="M767.2 396.8h0"/><path d="M810.4 378.1h0"/><path d="M771.2 361.9h0"/><path d="M738.7 387.8h0"/><path d="M790.8 388.7h0"/><path d="M820.2 378.5h0"/><path d="M761.4 388h0"/><path d="M776 384.1h0"/><path d="M777.8 381.9h0"/><path d="M821.9 383.2h0"/><path d="M808.7 385.5h0"/><path d="M826.4 384h0"/><path d="M823.8 378.9h0"/><path d="M827.3 381.8h0"/><path d="M822 374.4h0"/><path d="M763.3 377.7h0"/><path d="M810.9 387.7h0"/><path d="M738.5 370.3h0"/><path d="M765.1 378.8h0"/><path d="M813.3 371.2h0"/><path d="M744.8 380.1h0"/><path d="M764.6 372.4h0"/><path d="M734.4 368.6h0"/><path d="M747.9 376.4h0"/><path d="M725.5 374.4h0"/><path d="M782.3 358.4h0"/><path d="M812.4 377.5h0"/><path d="M733.8 374.9h0"/><path d="M789.3 368.2h0"/><path d="M754.4 370.7h0"/><path d="M767.4 367h0"/><path d="M792.8 383.1h0"/><path d="M723.5 368.3h0"/><path d="M788.5 380.6h0"/><path d="M804.2 370.8h0"/><path d="M806 377.8h0"/><path d="M772.6 371.9h0"/><path d="M732.7 378.9h0"/><path d="M731 384h0"/><path d="M769.2 384.3h0"/><path d="M790.4 374.8h0"/><path d="M730 374.5h0"/><path d="M776.8 370.5h0"/><path d="M726.9 331.9h0"/><path d="M824.6 350.7h0"/><path d="M735.8 374.4h0"/><path d="M800.8 426.9h0"/><path d="M809.8 309.8h0"/><path d="M774.6 399.5h0"/><path d="M739 428.6h0"/><path d="M806.9 360h0"/><path d="M759.2 383.3h0"/><path d="M803.4 371.1h0"/><path d="M751 403.9h0"/><path d="M809.9 419.7h0"/><path d="M821.3 393.3h0"/><path d="M743.7 398.2h0"/><path d="M755.8 372.6h0"/><path d="M725 404.6h0"/><path d="M823.1 381.1h0"/><path d="M795.1 388.5h0"/><path d="M806.6 387h0"/><path d="M733.5 365.7h0"/><path d="M760.2 340.1h0"/><path d="M816.2 368.2h0"/><path d="M817.2 344h0"/><path d="M732.4 363.8h0"/><path d="M764 410.2h0"/><path d="M807.9 373.4h0"/><path d="M783.9 367.9h0"/><path d="M769.2 347.8h0"/><path d="M558.3 381.4h0"/><path d="M560.7 387.6h0"/><path d="M547.7 376.8h0"/><path d="M560 384.9h0"/><path d="M538.1 374.3h0"/><path d="M529.6 378.6h0"/><path d="M540 381.9h0"/><path d="M555.6 370.4h0"/><path d="M546.9 379.5h0"/><path d="M535.5 378.2h0"/><path d="M560.2 377.4h0"/><path d="M540.1 375.3h0"/><path d="M545.2 374.3h0"/><path d="M547.8 370.1h0"/><path d="M530.6 379.4h0"/><path d="M558.8 373.8h0"/><path d="M541.2 381.1h0"/><path d="M535.9 378.6h0"/><path d="M545.1 369.2h0"/><path d="M518.4 378.2h0"/><path d="M526.1 376.9h0"/><path d="M542.1 372.3h0"/><path d="M525.8 371.9h0"/><path d="M556.3 363.8h0"/><path d="M551.4 376.5h0"/></g><g class="o"><path d="M252.4 120.8h0"/><path d="M278 165.2h0"/><path d="M317.9 199h0"/><path d="M394.3 29.1h0"/><path d="M423.9 73.7h0"/><path d="M574.2 56.8h0"/><path d="M468.5 105.7h0"/><path d="M451.3 116h0"/><path d="M519 120.5h0"/><path d="M523.2 186.3h0"/><path d="M537.8 207.5h0"/><path d="M625 186.3h0"/><path d="M415.4 211.7h0"/><path d="M402.7 217.5h0"/><path d="M410.9 222.3h0"/><path d="M472.5 217.8h0"/><path d="M587.2 215.9h0"/><path d="M506 227.6h0"/><path d="M650.6 199h0"/><path d="M650.6 222h0"/><path d="M732.3 43.9h0"/><path d="M723.8 97.3h0"/><path d="M901.4 112.1h0"/><path d="M774.6 145.6h0"/><path d="M680.2 209.6h0"/><path d="M1005 127.1h0"/><path d="M404.8 266.7h0"/><path d="M500.1 254.1h0"/><path d="M487.7 262.5h0"/><path d="M476.8 273h0"/><path d="M449.2 294.5h0"/><path d="M468.5 290.2h0"/><path d="M442.9 321.3h0"/><path d="M488.3 322.7h0"/><path d="M478.8 328.6h0"/><path d="M520.2 300.4h0"/><path d="M521 300.4h0"/><path d="M529.3 300.4h0"/><path d="M533.8 296.1h0"/><path d="M540.1 302h0"/><path d="M552.6 277.3h0"/><path d="M564.8 283.3h0"/><path d="M567.9 268.5h0"/><path d="M578.2 299.4h0"/><path d="M594.4 244.8h0"/><path d="M629.1 254.7h0"/><path d="M634 260.6h0"/><path d="M616.9 278.9h0"/><path d="M610.7 294.1h0"/><path d="M616.7 297.1h0"/><path d="M650.6 288.2h0"/><path d="M654.7 306.5h0"/><path d="M684.3 312.8h0"/><path d="M708 279.3h0"/><path d="M682.7 269.4h0"/><path d="M529.3 319.2h0"/><path d="M538.4 323.1h0"/><path d="M625.1 318.8h0"/><path d="M634.4 304h0"/><path d="M750.2 249.3h0"/><path d="M762.4 290.2h0"/><path d="M726.9 300h0"/><path d="M149.1 406.2h0"/><path d="M239.3 402.2h0"/><path d="M345.7 352.9h0"/><path d="M353.5 414.6h0"/><path d="M370.9 397.8h0"/><path d="M379 408.4h0"/><path d="M385.6 399.5h0"/><path d="M390.1 381h0"/><path d="M397.5 369.9h0"/><path d="M415.2 361.8h0"/><path d="M418.9 410.6h0"/><path d="M419.7 432.1h0"/><path d="M420.1 365.5h0"/><path d="M840.7 345.1h0"/><path d="M870.8 345.1h0"/><path d="M881.5 362h0"/><path d="M838.9 368.2h0"/><path d="M903.7 363.7h0"/><path d="M918.8 362h0"/><path d="M920.5 373.5h0"/><path d="M935.6 353.1h0"/><path d="M933.8 366.4h0"/><path d="M950.7 346.9h0"/><path d="M1005.7 354.9h0"/><path d="M846.9 388.6h0"/><path d="M941.8 395.7h0"/><path d="M881.5 408.1h0"/><path d="M886.8 404.6h0"/><path d="M890.4 402.8h0"/><path d="M908.1 406.3h0"/><path d="M969.3 412.5h0"/><path d="M887.7 427.3h0"/><path d="M966.7 427.3h0"/><path d="M424 352.9h0"/><path d="M432.1 350.7h0"/><path d="M455.8 355.1h0"/><path d="M466.1 340.7h0"/><path d="M472.8 338.5h0"/><path d="M478.7 330.7h0"/><path d="M483.1 332.2h0"/><path d="M492 332.6h0"/><path d="M489.8 355.9h0"/><path d="M422.1 365.5h0"/><path d="M485.3 373.6h0"/><path d="M480.9 380.3h0"/><path d="M428 391.1h0"/><path d="M424 395.6h0"/><path d="M444.7 405.9h0"/><path d="M421.4 410.4h0"/><path d="M494.2 422.9h0"/><path d="M480.9 383.4h0"/><path d="M512.3 338.1h0"/><path d="M538.2 338.1h0"/><path d="M542.6 332.2h0"/><path d="M542.6 342.6h0"/><path d="M556.7 342.6h0"/><path d="M564 339.6h0"/><path d="M567.7 342.6h0"/><path d="M517.4 350.7h0"/><path d="M525.6 352.9h0"/><path d="M547 355.1h0"/><path d="M557.4 348.5h0"/><path d="M564.8 351.4h0"/><path d="M518.9 361.8h0"/><path d="M530 363.3h0"/><path d="M535.2 365.5h0"/><path d="M511.5 369.9h0"/><path d="M557.4 365.5h0"/><path d="M561.1 367h0"/><path d="M514.9 391.1h0"/><path d="M530.8 391.9h0"/><path d="M530.8 397.1h0"/><path d="M535.2 397.8h0"/><path d="M555.2 391.9h0"/><path d="M559.6 391.9h0"/><path d="M515.2 404.4h0"/><path d="M512.3 410.4h0"/><path d="M521.1 410.4h0"/><path d="M538.2 410.4h0"/><path d="M551.5 414.8h0"/><path d="M508.6 420.7h0"/><path d="M498.2 427.4h0"/><path d="M569.2 418.5h0"/><path d="M579.9 331.5h0"/><path d="M602.1 333.7h0"/><path d="M605.8 348.5h0"/><path d="M614.6 356.6h0"/><path d="M617.6 357.4h0"/><path d="M591 364.8h0"/><path d="M575.4 367.7h0"/><path d="M608.7 373.6h0"/><path d="M637.6 367.7h0"/><path d="M639 376.6h0"/><path d="M625 380.3h0"/><path d="M573.2 380.3h0"/><path d="M574.7 389.7h0"/><path d="M585.1 389.7h0"/><path d="M608.7 388.9h0"/><path d="M605.8 397.8h0"/><path d="M605.8 402.2h0"/><path d="M614.6 401.5h0"/><path d="M613.9 408.1h0"/><path d="M606.5 412.6h0"/><path d="M602.1 417h0"/><path d="M585.1 404.4h0"/><path d="M591.7 410.4h0"/><path d="M595.4 412.6h0"/><path d="M580.6 416.3h0"/><path d="M572.5 408.1h0"/><path d="M571 419.2h0"/><path d="M627.2 420.7h0"/><path d="M644.2 400h0"/><path d="M637.6 408.1h0"/><path d="M599.8 433.3h0"/><path d="M648.2 340.4h0"/><path d="M720 335.9h0"/><path d="M684.5 351.4h0"/><path d="M695.6 349.2h0"/><path d="M717.7 351.4h0"/><path d="M693.3 361.8h0"/><path d="M657.1 361.8h0"/><path d="M655.6 369.9h0"/><path d="M674.1 374.4h0"/><path d="M709.6 365.5h0"/><path d="M714 369.9h0"/><path d="M659.3 395.6h0"/><path d="M671.9 393.4h0"/><path d="M680.8 393.4h0"/><path d="M695.6 395.6h0"/><path d="M704.4 397.8h0"/><path d="M646.7 399.3h0"/><path d="M667.4 412.6h0"/><path d="M665.2 418.5h0"/><path d="M671.9 428.9h0"/><path d="M654.9 433.3h0"/><path d="M697 433.3h0"/><path d="M722.6 336h0"/><path d="M751.9 338.1h0"/><path d="M756.3 344.6h0"/><path d="M775.2 351.7h0"/><path d="M730.8 355h0"/><path d="M739.4 360.9h0"/><path d="M746 363.6h0"/><path d="M735.1 368h0"/><path d="M738.9 370.7h0"/><path d="M728.6 380.4h0"/><path d="M764.4 381.5h0"/><path d="M730.8 384.6h0"/><path d="M767.1 384.6h0"/><path d="M774.7 391.1h0"/><path d="M777.6 352.8h0"/><path d="M790.1 359.6h0"/><path d="M815.6 352.8h0"/><path d="M783.6 357.7h0"/><path d="M787.9 371.8h0"/><path d="M802.6 373.9h0"/><path d="M793.9 378.3h0"/><path d="M813.4 378.3h0"/><path d="M828.1 378.3h0"/><path d="M779.3 381.5h0"/><path d="M779.3 384.1h0"/><path d="M785.8 384.1h0"/><path d="M794.4 389h0"/><path d="M798.8 393.8h0"/><path d="M806.9 406.3h0"/><path d="M796.6 410.7h0"/><path d="M810.7 385.2h0"/><path d="M821.6 385.2h0"/><path d="M827.5 395.5h0"/><path d="M776.5 391.1h0"/></g><path d="M831.3 377.4L831.3 369.8L831.2 362.2L831 354.6L830.7 347.1L830.3 339.5L829.9 331.9L829.4 324.4L828.8 316.9L828.1 309.4L827.3 301.9L826.5 294.4L825.5 287L824.5 279.5L823.4 272.2L822.3 264.8L821 257.5L819.7 250.2L818.3 243L816.8 235.8L815.3 228.6L813.6 221.5L811.9 214.4L810.2 207.4L808.3 200.5L806.4 193.6L804.4 186.7L802.3 179.9L800.1 173.2L797.9 166.5L795.6 159.9L793.3 153.4L790.8 146.9L788.3 140.5L785.8 134.2L783.1 127.9L780.4 121.7L777.7 115.6L774.8 109.6L771.9 103.6L769 97.8L766 92L762.9 86.3L759.7 80.7L756.5 75.2L753.3 69.8L750 64.5L746.6 59.3L743.2 54.1L739.7 49.1L736.1 44.2L732.5 39.3L728.9 34.6L725.2 30L721.5 25.5L717.7 21.1L713.9 16.8L710 12.6L706 8.5L702.1 4.5L698.1 0.7L694 -3.1L689.9 -6.7L685.8 -10.2L681.6 -13.6L677.4 -16.8L673.2 -20L668.9 -23L664.7 -25.9L660.3 -28.7L656 -31.4L651.6 -33.9L647.2 -36.3L642.7 -38.6L638.3 -40.7L633.8 -42.8L629.3 -44.7L624.8 -46.5L620.2 -48.1L615.7 -49.6L611.1 -51L606.5 -52.2L601.9 -53.4L597.3 -54.4L592.7 -55.2L588 -55.9L583.4 -56.5L578.8 -57L574.1 -57.3L569.5 -57.5L564.8 -57.6L560.1 -57.5L555.5 -57.3L550.8 -57L546.2 -56.5L541.6 -55.9L536.9 -55.2L532.3 -54.4L527.7 -53.4L523.1 -52.2L518.5 -51L513.9 -49.6L509.4 -48.1L504.8 -46.5L500.3 -44.7L495.8 -42.8L491.3 -40.7L486.9 -38.6L482.4 -36.3L478 -33.9L473.6 -31.4L469.3 -28.7L464.9 -25.9L460.7 -23L456.4 -20L452.2 -16.8L448 -13.6L443.8 -10.2L439.7 -6.7L435.6 -3.1L431.5 0.7L427.5 4.5L423.6 8.5L419.6 12.6L415.7 16.8L411.9 21.1L408.1 25.5L404.4 30L400.7 34.6L397.1 39.3L393.5 44.2L389.9 49.1L386.4 54.1L383 59.3L379.6 64.5L376.3 69.8L373.1 75.2L369.9 80.7L366.7 86.3L363.6 92L360.6 97.8L357.7 103.6L354.8 109.6L351.9 115.6L349.2 121.7L346.5 127.9L343.8 134.2L341.3 140.5L338.8 146.9L336.3 153.4L334 159.9L331.7 166.5L329.5 173.2L327.3 179.9L325.2 186.7L323.2 193.6L321.3 200.5L319.4 207.4L317.7 214.4L316 221.5L314.3 228.6L312.8 235.8L311.3 243L309.9 250.2L308.6 257.5L307.3 264.8L306.2 272.2L305.1 279.5L304.1 287L303.1 294.4L302.3 301.9L301.5 309.4L300.8 316.9L300.2 324.4L299.7 331.9L299.3 339.5L298.9 347.1L298.6 354.6L298.4 362.2L298.3 369.8L298.2 377.4L298.3 385L298.4 392.6L298.6 400.2L298.9 407.7L299.3 415.3L299.7 422.9L300.2 430.4L300.8 437.9L301.5 445.4L302.3 452.9L303.1 460.4L304.1 467.8L305.1 475.3L306.2 482.6L307.3 490L308.6 497.3L309.9 504.6L311.3 511.8L312.8 519L314.3 526.2L316 533.3L317.7 540.4L319.4 547.4L321.3 554.3L323.2 561.2L325.2 568.1L327.3 574.9L329.5 581.6L331.7 588.3L334 594.9L336.3 601.4L338.8 607.9L341.3 614.3L343.8 620.6L346.5 626.9L349.2 633.1L351.9 639.2L354.8 645.2L357.7 651.2L360.6 657L363.6 662.8L366.7 668.5L369.9 674.1L373.1 679.6L376.3 685L379.6 690.3L383 695.5L386.4 700.7L389.9 705.7L393.5 710.6L397.1 715.5L400.7 720.2L404.4 724.8L408.1 729.3L411.9 733.7L415.7 738L419.6 742.2L423.6 746.3L427.5 750.3L431.5 754.1L435.6 757.9L439.7 761.5L443.8 765L448 768.4L452.2 771.6L456.4 774.8L460.7 777.8L464.9 780.7L469.3 783.5L473.6 786.2L478 788.7L482.4 791.1L486.9 793.4L491.3 795.5L495.8 797.6L500.3 799.5L504.8 801.3L509.4 802.9L513.9 804.4L518.5 805.8L523.1 807L527.7 808.2L532.3 809.2L536.9 810L541.6 810.7L546.2 811.3L550.8 811.8L555.5 812.1L560.1 812.3L564.8 812.4L569.5 812.3L574.1 812.1L578.8 811.8L583.4 811.3L588 810.7L592.7 810L597.3 809.2L601.9 808.2L606.5 807L611.1 805.8L615.7 804.4L620.2 802.9L624.8 801.3L629.3 799.5L633.8 797.6L638.3 795.5L642.7 793.4L647.2 791.1L651.6 788.7L656 786.2L660.3 783.5L664.7 780.7L668.9 777.8L673.2 774.8L677.4 771.6L681.6 768.4L685.8 765L689.9 761.5L694 757.9L698.1 754.1L702.1 750.3L706 746.3L710 742.2L713.9 738L717.7 733.7L721.5 729.3L725.2 724.8L728.9 720.2L732.5 715.5L736.1 710.6L739.7 705.7L743.2 700.7L746.6 695.5L750 690.3L753.3 685L756.5 679.6L759.7 674.1L762.9 668.5L766 662.8L769 657L771.9 651.2L774.8 645.2L777.7 639.2L780.4 633.1L783.1 626.9L785.8 620.6L788.3 614.3L790.8 607.9L793.3 601.4L795.6 594.9L797.9 588.3L800.1 581.6L802.3 574.9L804.4 568.1L806.4 561.2L808.3 554.3L810.2 547.4L811.9 540.4L813.6 533.3L815.3 526.2L816.8 519L818.3 511.8L819.7 504.6L821 497.3L822.3 490L823.4 482.6L824.5 475.3L825.5 467.8L826.5 460.4L827.3 452.9L828.1 445.4L828.8 437.9L829.4 430.4L829.9 422.9L830.3 415.3L830.7 407.7L831 400.2L831.2 392.6L831.3 385L831.3 377.4" stroke="#000" stroke-width="3.1" fill="none" stroke-dasharray="11.1 4.8"/><path d="M565.3 377.4L730.0 14.9" stroke="#ff0000" stroke-width="3" fill="none" stroke-dasharray="11.1 4.8"/><path d="M565.3 377.4L648.4 14.9" stroke="#0000ff" stroke-width="3" fill="none" stroke-dasharray="11.1 4.8"/><path d="M948.1 48.4L946.1 54.5L939.7 54.5L944.9 58.2L942.9 64.3L948.1 60.6L953.2 64.3L951.3 58.2L956.4 54.5L950 54.5Z" fill="green" stroke="green" stroke-width="1.5" stroke-linejoin="round"/><path d="M906.3 78.3L904.3 84.4L897.9 84.4L903.1 88.1L901.1 94.2L906.3 90.4L911.5 94.2L909.5 88.1L914.7 84.4L908.3 84.4Z" fill="green" stroke="green" stroke-width="1.5" stroke-linejoin="round"/><path d="M745.8 193.1L743.9 199.2L737.5 199.2L742.6 203L740.7 209L745.8 205.3L751 209L749 203L754.2 199.2L747.8 199.2Z" fill="green" stroke="green" stroke-width="1.5" stroke-linejoin="round"/><path d="M762.5 193.1L760.5 199.2L754.1 199.2L759.3 203L757.3 209L762.5 205.3L767.6 209L765.7 203L770.8 199.2L764.4 199.2Z" fill="green" stroke="green" stroke-width="1.5" stroke-linejoin="round"/><path d="M725.9 236.6L723.9 242.7L717.5 242.7L722.7 246.5L720.7 252.5L725.9 248.8L731 252.5L729 246.5L734.2 242.7L727.8 242.7Z" fill="green" stroke="green" stroke-width="1.5" stroke-linejoin="round"/><path d="M740.8 246L738.8 252.1L732.4 252.1L737.6 255.9L735.6 262L740.8 258.2L746 262L744 255.9L749.1 252.1L742.8 252.1Z" fill="green" stroke="green" stroke-width="1.5" stroke-linejoin="round"/><path d="M749.9 252.7L748 258.8L741.6 258.8L746.7 262.6L744.8 268.6L749.9 264.9L755.1 268.6L753.1 262.6L758.3 258.8L751.9 258.8Z" fill="green" stroke="green" stroke-width="1.5" stroke-linejoin="round"/><path d="M683 253.9L681.1 260L674.7 260L679.8 263.7L677.9 269.8L683 266L688.2 269.8L686.2 263.7L691.4 260L685 260Z" fill="green" stroke="green" stroke-width="1.5" stroke-linejoin="round"/><path d="M638.2 285.6L636.2 291.7L629.8 291.7L635 295.5L633 301.5L638.2 297.8L643.3 301.5L641.4 295.5L646.5 291.7L640.1 291.7Z" fill="green" stroke="green" stroke-width="1.5" stroke-linejoin="round"/><path d="M589 340.4L587 346.5L580.7 346.5L585.8 350.3L583.9 356.4L589 352.6L594.2 356.4L592.2 350.3L597.4 346.5L591 346.5Z" fill="green" stroke="green" stroke-width="1.5" stroke-linejoin="round"/><path d="M693.4 253.9L691.4 260L685.1 260L690.2 263.7L688.2 269.8L693.4 266L698.6 269.8L696.6 263.7L701.8 260L695.4 260Z" fill="blue" stroke="blue" stroke-width="1.5" stroke-linejoin="round"/><path d="M661.3 279.8L659.4 285.9L653 285.9L658.2 289.7L656.2 295.7L661.3 292L666.5 295.7L664.5 289.7L669.7 285.9L663.3 285.9Z" fill="blue" stroke="blue" stroke-width="1.5" stroke-linejoin="round"/><path d="M616.9 315.2L614.9 321.3L608.6 321.3L613.7 325L611.7 331.1L616.9 327.4L622.1 331.1L620.1 325L625.3 321.3L618.9 321.3Z" fill="blue" stroke="blue" stroke-width="1.5" stroke-linejoin="round"/><path d="M644.1 315.2L642.1 321.3L635.7 321.3L640.9 325L638.9 331.1L644.1 327.4L649.3 331.1L647.3 325L652.5 321.3L646.1 321.3Z" fill="blue" stroke="blue" stroke-width="1.5" stroke-linejoin="round"/></g><path class="tk" d="M209.9 435.4v-8M209.9 14.9v8M387.9 435.4v-8M387.9 14.9v8M566.3 435.4v-8M566.3 14.9v8M743.3 435.4v-8M743.3 14.9v8M920.7 435.4v-8M920.7 14.9v8M121.3 376.6h8M1009.9 376.6h-8M121.3 304.5h8M1009.9 304.5h-8M121.3 233.2h8M1009.9 233.2h-8M121.3 161.3h8M1009.9 161.3h-8M121.3 86.6h8M1009.9 86.6h-8M121.3 14.9h8M1009.9 14.9h-8"/><path d="M121.8 13V437" stroke="#444" stroke-width="3.6" fill="none"/><path d="M1009.9 13V437" stroke="#222" stroke-width="3" fill="none"/><path d="M120 14.5H1011.4" stroke="#000" stroke-width="3" fill="none"/><path d="M120 435.5H1011.4" stroke="#444" stroke-width="3.6" fill="none"/><text class="tl" x="109.5" y="389.4" text-anchor="end">0.0</text><text class="tl" x="109.5" y="317.2" text-anchor="end">0.5</text><text class="tl" x="109.5" y="245.9" text-anchor="end">1.0</text><text class="tl" x="109.5" y="174.1" text-anchor="end">1.5</text><text class="tl" x="109.5" y="99.3" text-anchor="end">2.0</text><text class="tl" x="109.5" y="27.6" text-anchor="end">2.5</text><text class="tl" transform="translate(30.2 227.6) rotate(-90)" text-anchor="middle">Z (kpc)</text><g clip-path="url(#cb)"><path class="grid" d="M209.9 448V1288.4M387.9 448V1288.4M566.3 448V1288.4M743.3 448V1288.4M920.7 448V1288.4M121.3 1211.8H1009.9M121.3 1060.1H1009.9M121.3 906.1H1009.9M121.3 753.5H1009.9M121.3 600.5H1009.9"/><g class="g"><path d="M195.4 684.9h0"/><path d="M153.4 706.8h0"/><path d="M248 700h0"/><path d="M258.5 715.3h0"/><path d="M311.9 695.6h0"/><path d="M337.3 682.7h0"/><path d="M297.2 732.4h0"/><path d="M197.2 740.7h0"/><path d="M267.2 748.8h0"/><path d="M281.9 747.1h0"/><path d="M169.6 765.9h0"/><path d="M153.4 774.7h0"/><path d="M182.7 774.7h0"/><path d="M207.5 765.9h0"/><path d="M241.9 772.5h0"/><path d="M216.2 781h0"/><path d="M324.2 775.7h0"/><path d="M330.7 776.6h0"/><path d="M201.6 800h0"/><path d="M252.4 795.9h0"/><path d="M298.8 793.7h0"/><path d="M316.3 798.1h0"/><path d="M294.6 802.2h0"/><path d="M341 795.9h0"/><path d="M214 817.1h0"/><path d="M231.1 814.9h0"/><path d="M246.2 819.3h0"/><path d="M234.8 827.2h0"/><path d="M264.8 823.3h0"/><path d="M271.6 823.3h0"/><path d="M298.8 819.3h0"/><path d="M315.9 821.1h0"/><path d="M182.7 831.6h0"/><path d="M191.1 831.6h0"/><path d="M201.6 829.4h0"/><path d="M220.6 835.7h0"/><path d="M331.6 836.8h0"/><path d="M184.5 846.2h0"/><path d="M201.6 850.6h0"/><path d="M235.3 850.6h0"/><path d="M256.7 856.8h0"/><path d="M277.5 856.8h0"/><path d="M284.1 852.4h0"/><path d="M309.7 855h0"/><path d="M335.1 856.8h0"/><path d="M203.8 858.7h0"/><path d="M184.5 863.1h0"/><path d="M261.1 863.1h0"/><path d="M275.3 863.1h0"/><path d="M311.9 865.3h0"/><path d="M138.5 869.7h0"/><path d="M258.5 869.7h0"/><path d="M288.5 871.4h0"/><path d="M296.8 874h0"/><path d="M315.9 871.4h0"/><path d="M169.6 877.6h0"/><path d="M392.3 680.9h0"/><path d="M417.4 678.8h0"/><path d="M427.9 683.1h0"/><path d="M402.6 689.3h0"/><path d="M449.2 687.1h0"/><path d="M460.1 685.3h0"/><path d="M353.5 702.4h0"/><path d="M353.5 715.3h0"/><path d="M364.5 717.3h0"/><path d="M351.8 729.8h0"/><path d="M366.6 734.1h0"/><path d="M366.6 738.5h0"/><path d="M347.4 747.1h0"/><path d="M398.2 736.3h0"/><path d="M406.9 742.9h0"/><path d="M417.4 738.5h0"/><path d="M421.8 742.9h0"/><path d="M432.3 738.5h0"/><path d="M438.9 740.7h0"/><path d="M434.5 709h0"/><path d="M432.3 717.3h0"/><path d="M444.8 719.5h0"/><path d="M470 695.8h0"/><path d="M477 695.8h0"/><path d="M479.2 712.9h0"/><path d="M479.2 719.5h0"/><path d="M481.4 732.4h0"/><path d="M483.1 736.3h0"/><path d="M457.9 747.1h0"/><path d="M512.7 704.6h0"/><path d="M523 725.8h0"/><path d="M506.8 742.9h0"/><path d="M512.7 738.5h0"/><path d="M533.5 684.9h0"/><path d="M551 687.1h0"/><path d="M556.5 709h0"/><path d="M557.1 732.4h0"/><path d="M551 717.3h0"/><path d="M529.5 749.3h0"/><path d="M540 751.4h0"/><path d="M498 753.2h0"/><path d="M489.2 762h0"/><path d="M498 768.5h0"/><path d="M529.5 759.8h0"/><path d="M540 762h0"/><path d="M548.8 757.6h0"/><path d="M551 766.3h0"/><path d="M372.6 759.8h0"/><path d="M379.1 766.3h0"/><path d="M386.8 764.1h0"/><path d="M390.1 766.3h0"/><path d="M394.4 768.5h0"/><path d="M399.5 771.4h0"/><path d="M406.9 764.1h0"/><path d="M404.3 778.8h0"/><path d="M413.1 781h0"/><path d="M424 764.1h0"/><path d="M419.6 770.3h0"/><path d="M431.7 757.6h0"/><path d="M438.9 759.8h0"/><path d="M449.2 776.6h0"/><path d="M466 774.7h0"/><path d="M432.3 781h0"/><path d="M366.6 772.5h0"/><path d="M368.8 776.6h0"/><path d="M345.6 776.6h0"/><path d="M351.8 783.2h0"/><path d="M351.8 789.3h0"/><path d="M362.3 787.1h0"/><path d="M352.9 795.9h0"/><path d="M347.4 802.5h0"/><path d="M366.6 793.7h0"/><path d="M376.9 798.1h0"/><path d="M375.4 804.4h0"/><path d="M383.5 806.6h0"/><path d="M383.5 783.2h0"/><path d="M386.8 775.1h0"/><path d="M402.6 795.9h0"/><path d="M409.1 795.9h0"/><path d="M409.1 789.3h0"/><path d="M415.2 791.5h0"/><path d="M424 800h0"/><path d="M434.5 793.7h0"/><path d="M432.3 806.6h0"/><path d="M451.4 791.5h0"/><path d="M460.1 789.3h0"/><path d="M455.8 800h0"/><path d="M453.6 806.6h0"/><path d="M447.7 812.7h0"/><path d="M461.7 814.9h0"/><path d="M479.2 814.9h0"/><path d="M493.6 817.1h0"/><path d="M509 802.2h0"/><path d="M525.8 801.4h0"/><path d="M528 793.7h0"/><path d="M540 784.9h0"/><path d="M561.9 784.9h0"/><path d="M553.2 798.1h0"/><path d="M557.6 801.4h0"/><path d="M364.5 810.6h0"/><path d="M372.6 819.3h0"/><path d="M374.7 823.3h0"/><path d="M357.9 827.2h0"/><path d="M366.6 827.2h0"/><path d="M381.3 831.6h0"/><path d="M417.4 819.3h0"/><path d="M424 821.1h0"/><path d="M400.4 833.8h0"/><path d="M407.6 829.4h0"/><path d="M442.6 831.6h0"/><path d="M505 821.5h0"/><path d="M514.9 825.4h0"/><path d="M521.4 833.8h0"/><path d="M528 833.8h0"/><path d="M534.6 825.4h0"/><path d="M552.1 814.9h0"/><path d="M557.6 827.2h0"/><path d="M364.5 848.4h0"/><path d="M402.1 855h0"/><path d="M417.4 850.6h0"/><path d="M434.5 855h0"/><path d="M449.2 844.1h0"/><path d="M451.4 852.8h0"/><path d="M457.9 855h0"/><path d="M467.8 855h0"/><path d="M473.3 855h0"/><path d="M479.2 858.7h0"/><path d="M487.5 853.9h0"/><path d="M487.5 844.1h0"/><path d="M498 841.9h0"/><path d="M506.1 846.2h0"/><path d="M510.5 850.6h0"/><path d="M505.4 857.2h0"/><path d="M510.5 863.1h0"/><path d="M535.7 848.4h0"/><path d="M540 848.4h0"/><path d="M548.4 850.6h0"/><path d="M550.6 838.1h0"/><path d="M559.7 846.2h0"/><path d="M555.4 858.7h0"/><path d="M559.7 863.1h0"/><path d="M553.2 864.9h0"/><path d="M464.5 869.7h0"/><path d="M490.1 871.9h0"/><path d="M498.4 874h0"/><path d="M523.2 869.7h0"/><path d="M529.5 867.5h0"/><path d="M402.6 871.9h0"/><path d="M413.1 874h0"/><path d="M427.9 867.5h0"/><path d="M426.2 875.8h0"/><path d="M364.5 877.6h0"/><path d="M544.4 879.1h0"/><path d="M623 678.8h0"/><path d="M623 685.3h0"/><path d="M643.8 674.4h0"/><path d="M648.2 680.9h0"/><path d="M650.4 690.8h0"/><path d="M659.1 680.5h0"/><path d="M669 684.2h0"/><path d="M666.8 687.1h0"/><path d="M684.3 682.7h0"/><path d="M700.7 678.8h0"/><path d="M705.1 676.6h0"/><path d="M727 696.3h0"/><path d="M728.1 699.6h0"/><path d="M712.8 702.4h0"/><path d="M701.8 699.6h0"/><path d="M704 707.2h0"/><path d="M705.1 711.6h0"/><path d="M718.3 706.1h0"/><path d="M727 707.2h0"/><path d="M729.2 712.7h0"/><path d="M741.2 683.1h0"/><path d="M744.5 685.3h0"/><path d="M748.9 686.4h0"/><path d="M752.2 702.4h0"/><path d="M763.1 699.6h0"/><path d="M778.5 691.9h0"/><path d="M783.9 685.3h0"/><path d="M764.2 710.5h0"/><path d="M775.2 712.7h0"/><path d="M783.9 710.5h0"/><path d="M766.4 723.6h0"/><path d="M764.2 729.1h0"/><path d="M766.4 739h0"/><path d="M751.1 728h0"/><path d="M743.4 716h0"/><path d="M744.5 722.5h0"/><path d="M624.1 700.2h0"/><path d="M604.4 702.8h0"/><path d="M594.6 685.3h0"/><path d="M594.6 690.8h0"/><path d="M586.9 676.1h0"/><path d="M569.4 680.9h0"/><path d="M574.9 676.6h0"/><path d="M569.4 716h0"/><path d="M568.3 726.9h0"/><path d="M659.1 710.5h0"/><path d="M661.3 717.1h0"/><path d="M667.9 716h0"/><path d="M673.4 716h0"/><path d="M686.5 717.1h0"/><path d="M693.1 721.4h0"/><path d="M648.2 732.4h0"/><path d="M650.4 740.1h0"/><path d="M663.5 735.7h0"/><path d="M666.8 733.5h0"/><path d="M667.9 741.2h0"/><path d="M683.2 737.9h0"/><path d="M690.9 742.2h0"/><path d="M711.7 739h0"/><path d="M717.2 735.7h0"/><path d="M721.5 734.6h0"/><path d="M733.6 735.7h0"/><path d="M738 745.5h0"/><path d="M718.3 746.6h0"/><path d="M711.7 746.6h0"/><path d="M616.4 737.9h0"/><path d="M627.4 744.4h0"/><path d="M632.9 745.5h0"/><path d="M602.2 745.5h0"/><path d="M569.4 747.7h0"/><path d="M566.1 753.2h0"/><path d="M592.4 754.3h0"/><path d="M635.1 754.3h0"/><path d="M665.7 766.3h0"/><path d="M663.5 767.4h0"/><path d="M679.9 762h0"/><path d="M696.4 770.7h0"/><path d="M708.4 767.4h0"/><path d="M722.6 778.4h0"/><path d="M717.2 783.8h0"/><path d="M733.6 769.6h0"/><path d="M733.6 762h0"/><path d="M727 757.6h0"/><path d="M739.1 759.8h0"/><path d="M763.1 759.8h0"/><path d="M776.3 756.5h0"/><path d="M782.8 748.8h0"/><path d="M780.7 764.1h0"/><path d="M770.8 774.7h0"/><path d="M753.3 770.7h0"/><path d="M785 786h0"/><path d="M575.9 768.5h0"/><path d="M581.4 770.7h0"/><path d="M585.8 770.7h0"/><path d="M582.5 779.5h0"/><path d="M582.5 783.8h0"/><path d="M608.8 783.4h0"/><path d="M614.3 777.3h0"/><path d="M643.8 781.7h0"/><path d="M666.8 786h0"/><path d="M701.8 784.9h0"/><path d="M713.9 791.5h0"/><path d="M740.1 793.7h0"/><path d="M567.2 797h0"/><path d="M566.1 783.8h0"/><path d="M574.9 808.4h0"/><path d="M582.5 808.4h0"/><path d="M602.2 808.4h0"/><path d="M612.1 808.4h0"/><path d="M620.8 808.4h0"/><path d="M636.2 808.4h0"/><path d="M640.5 799.2h0"/><path d="M647.1 803.6h0"/><path d="M652.6 800.3h0"/><path d="M674.5 806.8h0"/><path d="M684.3 803.6h0"/><path d="M689.8 812.3h0"/><path d="M689.8 816.7h0"/><path d="M689.8 821.1h0"/><path d="M708.4 800.3h0"/><path d="M716.1 806.8h0"/><path d="M722.6 813.4h0"/><path d="M733.6 814.5h0"/><path d="M740.1 808.4h0"/><path d="M748.9 813.4h0"/><path d="M762 815.6h0"/><path d="M773 800.3h0"/><path d="M771.9 807.9h0"/><path d="M778.5 813.4h0"/><path d="M783.9 813.4h0"/><path d="M757.7 821.1h0"/><path d="M751.1 826.5h0"/><path d="M770.8 832h0"/><path d="M780.7 827.6h0"/><path d="M785 823.3h0"/><path d="M580.3 823.3h0"/><path d="M586.9 825.4h0"/><path d="M588 821.1h0"/><path d="M624.1 827.6h0"/><path d="M625.2 833.1h0"/><path d="M644.9 820h0"/><path d="M637.2 815.6h0"/><path d="M647.1 827.6h0"/><path d="M654.8 832h0"/><path d="M665.7 825.4h0"/><path d="M673.4 824.3h0"/><path d="M681 823.3h0"/><path d="M679.9 832h0"/><path d="M670.1 818.9h0"/><path d="M694.2 832h0"/><path d="M700.7 836.4h0"/><path d="M706.2 836.4h0"/><path d="M688.7 845.1h0"/><path d="M697.5 851.7h0"/><path d="M705.1 846.2h0"/><path d="M713.9 840.8h0"/><path d="M716.1 845.1h0"/><path d="M709.5 857.2h0"/><path d="M718.3 853.9h0"/><path d="M722.6 851.7h0"/><path d="M729.2 845.1h0"/><path d="M733.6 840.8h0"/><path d="M738 833.1h0"/><path d="M742.3 832h0"/><path d="M746.7 827.6h0"/><path d="M738 849.5h0"/><path d="M742.3 857.2h0"/><path d="M748.9 856.1h0"/><path d="M731.4 859.4h0"/><path d="M760.9 848.4h0"/><path d="M768.6 849.5h0"/><path d="M776.3 833.1h0"/><path d="M781.7 843h0"/><path d="M568.3 858.3h0"/><path d="M581.4 861.6h0"/><path d="M586.9 862.7h0"/><path d="M595.7 855h0"/><path d="M606.6 844.1h0"/><path d="M613.2 869.2h0"/><path d="M606.6 873.6h0"/><path d="M617.5 875.8h0"/><path d="M624.1 874.7h0"/><path d="M652.6 874.7h0"/><path d="M664.6 864.9h0"/><path d="M571.6 876.9h0"/><path d="M777.4 869.2h0"/><path d="M783.9 871.4h0"/><path d="M806.9 676.6h0"/><path d="M906.3 672.2h0"/><path d="M862.1 682.8h0"/><path d="M887.5 695.8h0"/><path d="M933.9 693.2h0"/><path d="M965.5 702.5h0"/><path d="M1005.7 695.4h0"/><path d="M788.8 685.5h0"/><path d="M788.8 689.4h0"/><path d="M824.1 693.2h0"/><path d="M826.3 702.7h0"/><path d="M795.8 700.9h0"/><path d="M793.6 699.8h0"/><path d="M815.7 709.1h0"/><path d="M805.8 713.1h0"/><path d="M802.5 709.8h0"/><path d="M830.7 713.1h0"/><path d="M855.9 709.1h0"/><path d="M859.9 713.1h0"/><path d="M890.4 715.3h0"/><path d="M900.1 719.7h0"/><path d="M897.9 726.3h0"/><path d="M824.1 723.7h0"/><path d="M826.8 734.5h0"/><path d="M802.9 732.3h0"/><path d="M796.9 738.9h0"/><path d="M798.5 742.9h0"/><path d="M850 734.5h0"/><path d="M858.1 736.3h0"/><path d="M821.9 747.3h0"/><path d="M791.9 749.1h0"/><path d="M825 752.2h0"/><path d="M843.3 752.8h0"/><path d="M851.1 755h0"/><path d="M855.9 749.1h0"/><path d="M920.6 742.5h0"/><path d="M973.7 749.1h0"/><path d="M873.2 760.6h0"/><path d="M874.9 757.9h0"/><path d="M904.1 760.1h0"/><path d="M899.7 767.2h0"/><path d="M898.6 772.1h0"/><path d="M798.5 761.7h0"/><path d="M830.7 763.9h0"/><path d="M805.8 772.7h0"/><path d="M810.2 772.7h0"/><path d="M851.1 767.2h0"/><path d="M851.1 772.7h0"/><path d="M848.9 768.3h0"/><path d="M835.2 774.3h0"/><path d="M788.8 778.7h0"/><path d="M800.7 778.7h0"/><path d="M820.1 778.7h0"/><path d="M813.5 784.9h0"/><path d="M820.1 787.1h0"/><path d="M826.3 787.1h0"/><path d="M857.7 787.1h0"/><path d="M862.1 793.7h0"/><path d="M796.3 789.3h0"/><path d="M879.3 780.9h0"/><path d="M889.7 780.9h0"/><path d="M901.9 780.9h0"/><path d="M912.5 783.1h0"/><path d="M920.6 771.2h0"/><path d="M919.5 777.1h0"/><path d="M931.7 774.9h0"/><path d="M937.2 774.9h0"/><path d="M931.7 779.3h0"/><path d="M901.9 791.5h0"/><path d="M888.6 797.7h0"/><path d="M919.5 802.5h0"/><path d="M917.3 807h0"/><path d="M986.9 776.7h0"/><path d="M961.5 791.5h0"/><path d="M946.1 797.7h0"/><path d="M954.9 808.7h0"/><path d="M821.9 806.5h0"/><path d="M841.1 806.5h0"/><path d="M834.5 800.3h0"/><path d="M802.5 803.6h0"/><path d="M791.4 802.5h0"/><path d="M800.3 798.1h0"/><path d="M811.3 816.9h0"/><path d="M853.7 814.7h0"/><path d="M867.6 819.8h0"/><path d="M874.9 822.9h0"/><path d="M866.5 822.9h0"/><path d="M901.9 825.1h0"/><path d="M941.6 814.7h0"/><path d="M939.4 824.2h0"/><path d="M950.5 825.1h0"/><path d="M978.1 816.9h0"/><path d="M984.3 825.1h0"/><path d="M998 822.9h0"/><path d="M1003.5 814.7h0"/><path d="M1003.5 831.3h0"/><path d="M794.7 825.1h0"/><path d="M810.9 831.3h0"/><path d="M813.5 830.2h0"/><path d="M789.2 832.4h0"/><path d="M801.4 839.7h0"/><path d="M817.9 837.9h0"/><path d="M850 837.9h0"/><path d="M855.9 831.3h0"/><path d="M866.5 841.9h0"/><path d="M920.6 839.7h0"/><path d="M944.9 838.3h0"/><path d="M950.5 840.1h0"/><path d="M961.5 839.7h0"/><path d="M800.7 847.8h0"/><path d="M809.1 847.8h0"/><path d="M850 852.2h0"/><path d="M855.9 848.9h0"/><path d="M858.8 850h0"/><path d="M864.3 852.2h0"/><path d="M834.5 858.9h0"/><path d="M815.7 863.3h0"/><path d="M824.1 865.5h0"/><path d="M798 860h0"/><path d="M793.6 864.4h0"/><path d="M791.4 868.8h0"/><path d="M799.1 869.9h0"/><path d="M804.7 871.5h0"/><path d="M798 875.4h0"/><path d="M870.9 863.3h0"/><path d="M872.7 871.5h0"/><path d="M881.5 873.7h0"/><path d="M891.9 861.1h0"/><path d="M904.1 861.1h0"/><path d="M908.1 857.3h0"/><path d="M901.9 867.7h0"/><path d="M903 871h0"/><path d="M965.5 852.2h0"/><path d="M972.1 850h0"/><path d="M984.3 846.3h0"/><path d="M990.9 852.2h0"/><path d="M984.3 858.9h0"/><path d="M975.9 864.4h0"/><path d="M981.4 867.7h0"/><path d="M999.1 873.2h0"/><path d="M1003.5 877.7h0"/><path d="M897.5 877.7h0"/><path d="M884.2 878.8h0"/><path d="M572.3 454.5h0"/><path d="M576.3 455.3h0"/><path d="M585.8 449.8h0"/><path d="M593.6 456.9h0"/><path d="M600 455.3h0"/><path d="M603.1 455.3h0"/><path d="M606.3 464h0"/><path d="M607.9 467.9h0"/><path d="M617.3 460h0"/><path d="M618.9 463.2h0"/><path d="M559.7 469.5h0"/><path d="M572.3 469.5h0"/><path d="M564.5 479.8h0"/><path d="M573.9 479.8h0"/><path d="M577.9 482.1h0"/><path d="M596 482.1h0"/><path d="M582.6 491.6h0"/><path d="M557.4 500.3h0"/><path d="M587.3 502.6h0"/><path d="M593.6 500.3h0"/><path d="M603.9 500.3h0"/><path d="M612.6 497.1h0"/><path d="M615 498.7h0"/><path d="M588.9 507.4h0"/><path d="M589.7 511.3h0"/><path d="M597.6 511.3h0"/><path d="M597.6 517.6h0"/><path d="M582.6 517.6h0"/><path d="M557 517.6h0"/><path d="M570 522.4h0"/><path d="M555 530.3h0"/><path d="M582.6 530.3h0"/><path d="M557.4 540.5h0"/><path d="M565.2 539.7h0"/><path d="M569.2 539.7h0"/><path d="M580.2 536.6h0"/><path d="M587.3 540.5h0"/><path d="M554.2 551.6h0"/><path d="M577.9 549.2h0"/><path d="M595.2 551.6h0"/><path d="M614.2 481.3h0"/><path d="M614.2 535h0"/><path d="M625.2 530.3h0"/><path d="M622.1 538.9h0"/><path d="M625.2 541.3h0"/><path d="M625.2 545.3h0"/><path d="M618.9 547.6h0"/><path d="M633.9 505h0"/><path d="M633.9 512.1h0"/><path d="M633.9 524h0"/><path d="M637.8 498.7h0"/><path d="M639.4 471.9h0"/><path d="M639.4 486.1h0"/><path d="M644.1 486.1h0"/><path d="M648.9 492.4h0"/><path d="M639.4 457.7h0"/><path d="M642.6 460h0"/><path d="M650.5 455.3h0"/><path d="M646.5 507.4h0"/><path d="M646.5 516.1h0"/><path d="M642.6 540.5h0"/><path d="M652.8 543.7h0"/><path d="M661.5 550h0"/><path d="M664.7 551.6h0"/><path d="M686.7 551.6h0"/><path d="M659.9 474.2h0"/><path d="M662.3 476.6h0"/><path d="M671.8 487.7h0"/><path d="M671.8 509h0"/><path d="M678.9 471.9h0"/><path d="M682.8 475.8h0"/><path d="M689.1 471.9h0"/><path d="M695.4 469.5h0"/><path d="M693.1 482.1h0"/><path d="M690.7 487.7h0"/><path d="M693.1 496.3h0"/><path d="M695.4 509h0"/><path d="M675.7 455.3h0"/><path d="M680.4 456.9h0"/><path d="M693.1 460.8h0"/><path d="M697.8 458.5h0"/><path d="M671.8 452.9h0"/><path d="M579.4 567.9h0"/><path d="M584.2 575.8h0"/><path d="M587.3 575h0"/><path d="M589.7 571h0"/><path d="M571.6 575.8h0"/><path d="M576.3 583.7h0"/><path d="M582.6 583.7h0"/><path d="M563.7 591.6h0"/><path d="M588.9 562.4h0"/><path d="M598.4 573.4h0"/><path d="M601.5 560h0"/><path d="M609.4 568.7h0"/><path d="M610.2 579.7h0"/><path d="M617.3 577.4h0"/><path d="M629.2 568.7h0"/><path d="M633.1 560.8h0"/><path d="M625.2 585.2h0"/><path d="M644.1 588.4h0"/><path d="M647.3 590h0"/><path d="M674.1 571h0"/><path d="M675.7 577.4h0"/><path d="M682 579.7h0"/><path d="M685.2 571h0"/><path d="M688.3 566.3h0"/><path d="M695.4 569.5h0"/><path d="M675.7 586h0"/><path d="M684.4 590h0"/><path d="M686.7 596.3h0"/><path d="M689.9 598.7h0"/><path d="M603.1 599.4h0"/><path d="M615.7 598.7h0"/><path d="M618.9 598.7h0"/><path d="M626.8 601.8h0"/><path d="M608.6 611.3h0"/><path d="M618.9 611.3h0"/><path d="M601.5 615.2h0"/><path d="M566 615.2h0"/><path d="M553.4 621.5h0"/><path d="M559.7 627.1h0"/><path d="M570 623.1h0"/><path d="M587.3 622.3h0"/><path d="M590.5 624.7h0"/><path d="M598.4 629.4h0"/><path d="M589.7 632.6h0"/><path d="M610.2 623.9h0"/><path d="M628.4 621.5h0"/><path d="M629.9 624.7h0"/><path d="M625.2 629.4h0"/><path d="M622.1 635.7h0"/><path d="M615 634.2h0"/><path d="M626.8 634.2h0"/><path d="M609.4 641.3h0"/><path d="M611.8 641.3h0"/><path d="M618.9 642.1h0"/><path d="M625.2 641.3h0"/><path d="M632.3 641.3h0"/><path d="M637.8 646.8h0"/><path d="M642.6 638.9h0"/><path d="M642.6 642.1h0"/><path d="M648.9 640.5h0"/><path d="M653.6 627.9h0"/><path d="M653.6 622.3h0"/><path d="M666.2 637.3h0"/><path d="M673.3 634.2h0"/><path d="M678.9 634.2h0"/><path d="M670.2 615.2h0"/><path d="M684.4 642.8h0"/><path d="M671.8 650.7h0"/><path d="M655.2 650.7h0"/><path d="M647.3 650.7h0"/><path d="M617.3 650.7h0"/><path d="M614.2 651.5h0"/><path d="M559.7 645.2h0"/><path d="M565.2 654.7h0"/><path d="M559.7 659.4h0"/><path d="M572.3 659.4h0"/><path d="M571.6 664.9h0"/><path d="M598.4 661h0"/><path d="M659.9 659.4h0"/><path d="M664.7 661.8h0"/><path d="M669.4 664.1h0"/><path d="M675.7 664.1h0"/><path d="M682 664.9h0"/><path d="M698.6 654.7h0"/><path d="M555.8 668.9h0"/><path d="M702.4 452.9h0"/><path d="M724.5 449.8h0"/><path d="M737.1 452.9h0"/><path d="M749.7 455.3h0"/><path d="M757.6 452.9h0"/><path d="M767.9 449.8h0"/><path d="M722.1 469.5h0"/><path d="M706.3 475.8h0"/><path d="M709.5 476.6h0"/><path d="M714.2 475.8h0"/><path d="M737.1 472.7h0"/><path d="M737.1 475h0"/><path d="M745.8 465.6h0"/><path d="M747.3 464.8h0"/><path d="M808.9 456.9h0"/><path d="M823.9 467.9h0"/><path d="M756 479.8h0"/><path d="M760 486.1h0"/><path d="M777.3 477.4h0"/><path d="M782.1 482.1h0"/><path d="M788.4 478.2h0"/><path d="M789.9 480.6h0"/><path d="M788.4 484.5h0"/><path d="M773.4 490h0"/><path d="M786 496.3h0"/><path d="M764.7 499.5h0"/><path d="M762.3 503.4h0"/><path d="M771 505h0"/><path d="M703.9 503.4h0"/><path d="M706 511.8h0"/><path d="M728.4 505h0"/><path d="M728.4 509h0"/><path d="M738.7 511.8h0"/><path d="M741 511.3h0"/><path d="M766.3 513.7h0"/><path d="M775.4 518.1h0"/><path d="M762.3 526.3h0"/><path d="M773.4 535h0"/><path d="M710.3 524.4h0"/><path d="M711.8 545.3h0"/><path d="M726.5 547.6h0"/><path d="M807.3 501.1h0"/><path d="M804.1 509.7h0"/><path d="M807.3 509.7h0"/><path d="M810.5 509.7h0"/><path d="M817.6 488.1h0"/><path d="M821.5 494.8h0"/><path d="M822.3 496.3h0"/><path d="M830.2 479.8h0"/><path d="M842.8 479.8h0"/><path d="M830.2 501.1h0"/><path d="M837.3 505h0"/><path d="M836.5 513.7h0"/><path d="M830.2 518.1h0"/><path d="M801 526.3h0"/><path d="M845.2 528.7h0"/><path d="M832.5 532.6h0"/><path d="M841.2 536.6h0"/><path d="M817.6 559.5h0"/><path d="M724.5 566.6h0"/><path d="M739.4 568.7h0"/><path d="M747.3 571h0"/><path d="M760 564.7h0"/><path d="M777.3 564.7h0"/><path d="M756 577.4h0"/><path d="M779.7 577.4h0"/><path d="M703.9 583.7h0"/><path d="M714.2 588.4h0"/><path d="M717.4 590h0"/><path d="M719.7 596.3h0"/><path d="M752.1 596.3h0"/><path d="M817.6 560.8h0"/><path d="M847.5 571h0"/><path d="M855.4 573.4h0"/><path d="M828.6 581.3h0"/><path d="M819.9 592.3h0"/><path d="M826.2 590h0"/><path d="M794.4 609.2h0"/><path d="M738.7 620h0"/><path d="M712.3 623.9h0"/><path d="M724.5 623.9h0"/><path d="M724.5 630.2h0"/><path d="M767.1 621.9h0"/><path d="M707.9 634.2h0"/><path d="M707.9 638.1h0"/><path d="M703.9 645.2h0"/><path d="M730.8 642.8h0"/><path d="M726 649.2h0"/><path d="M771 641.3h0"/><path d="M801 646.8h0"/><path d="M804.1 645.2h0"/><path d="M807.3 651.2h0"/><path d="M813.6 645.2h0"/><path d="M782.1 655.5h0"/><path d="M775.4 659.4h0"/><path d="M712.6 659.1h0"/><path d="M715.8 657.8h0"/><path d="M726 661.8h0"/><path d="M734.7 661.8h0"/><path d="M715 668.9h0"/><path d="M724.5 668.1h0"/><path d="M764.7 669.7h0"/><path d="M891.9 459.4h0"/><path d="M879.1 477.7h0"/><path d="M916.6 481.7h0"/><path d="M893.8 486.2h0"/><path d="M885.5 494.8h0"/><path d="M896.4 498.9h0"/><path d="M875.1 498.9h0"/><path d="M868 500.8h0"/><path d="M897.9 509.6h0"/><path d="M912.3 522.3h0"/><path d="M883.6 526.7h0"/><path d="M903.8 543.4h0"/><path d="M929.4 545.5h0"/><path d="M937.8 541.2h0"/><path d="M946.4 537h0"/><path d="M866.4 558.2h0"/><path d="M880.7 560.3h0"/><path d="M885.5 560.3h0"/><path d="M939.7 560.3h0"/><path d="M916.6 567h0"/><path d="M984.4 549.8h0"/><path d="M903.8 588h0"/><path d="M950.6 579.4h0"/><path d="M1003.5 579.4h0"/><path d="M965.2 594.1h0"/><path d="M889.5 619.6h0"/><path d="M971.6 617.5h0"/><path d="M988.8 626h0"/><path d="M999.5 634.3h0"/><path d="M893.8 634.3h0"/><path d="M984.4 647.2h0"/><path d="M957.3 652.8h0"/><path d="M958.9 651.5h0"/><path d="M961.3 659.8h0"/><path d="M1007.5 663.5h0"/><path d="M128.7 884.4h0"/><path d="M138.5 886.6h0"/><path d="M171.8 886.6h0"/><path d="M128.7 894.9h0"/><path d="M176.2 899.3h0"/><path d="M182.7 901.5h0"/><path d="M195.4 908h0"/><path d="M208.1 883.9h0"/><path d="M281.9 892.7h0"/><path d="M305.6 886.6h0"/><path d="M330.7 888.8h0"/><path d="M341 899.3h0"/><path d="M144.6 921.2h0"/><path d="M126.5 924.9h0"/><path d="M176.2 924.9h0"/><path d="M191.1 927.1h0"/><path d="M228.9 908h0"/><path d="M237.7 912.4h0"/><path d="M228.9 924.9h0"/><path d="M269.4 913.9h0"/><path d="M278 916.1h0"/><path d="M281.9 922.7h0"/><path d="M299 916.1h0"/><path d="M306 908h0"/><path d="M311.9 905.8h0"/><path d="M309.7 918.3h0"/><path d="M314.1 918.3h0"/><path d="M324.6 922.7h0"/><path d="M329 918.3h0"/><path d="M301 929.3h0"/><path d="M167.4 943.9h0"/><path d="M260.7 937.4h0"/><path d="M265.1 935.8h0"/><path d="M288.5 943.9h0"/><path d="M299 941.7h0"/><path d="M307.5 948.3h0"/><path d="M322.4 948.3h0"/><path d="M332.9 941.7h0"/><path d="M235.3 956.6h0"/><path d="M248 952.2h0"/><path d="M155.6 973.7h0"/><path d="M167.4 977.4h0"/><path d="M180.1 967.1h0"/><path d="M191.1 971.5h0"/><path d="M256.7 973.7h0"/><path d="M262.9 981.8h0"/><path d="M265.1 989h0"/><path d="M273.6 990.6h0"/><path d="M309.7 966.5h0"/><path d="M311.9 965.4h0"/><path d="M307.5 975.9h0"/><path d="M337.3 977.4h0"/><path d="M239.7 992.8h0"/><path d="M286.3 994.5h0"/><path d="M295.1 994.5h0"/><path d="M311.9 990.6h0"/><path d="M330.7 996.7h0"/><path d="M201.6 1000.9h0"/><path d="M153.4 1015.3h0"/><path d="M163.3 1013.1h0"/><path d="M237.7 1010.9h0"/><path d="M248 1015.3h0"/><path d="M256.7 1015.3h0"/><path d="M265.1 1021.9h0"/><path d="M280.2 1010.9h0"/><path d="M281.9 1025.6h0"/><path d="M337.3 1010.9h0"/><path d="M226.7 1023.8h0"/><path d="M296.8 1036.5h0"/><path d="M318 1030h0"/><path d="M314.1 1043.1h0"/><path d="M203.8 1049h0"/><path d="M216.2 1044.6h0"/><path d="M269.4 1053.4h0"/><path d="M245.8 1058.4h0"/><path d="M286.3 1057.8h0"/><path d="M292.9 1072.7h0"/><path d="M290.7 1081h0"/><path d="M307.5 1078.1h0"/><path d="M330.7 1078.8h0"/><path d="M370.4 884.4h0"/><path d="M415.2 886.1h0"/><path d="M425.1 883.3h0"/><path d="M440.4 882.2h0"/><path d="M447 888.8h0"/><path d="M455.8 881.1h0"/><path d="M474.4 888.8h0"/><path d="M480.9 885.5h0"/><path d="M485.3 884.4h0"/><path d="M484.2 894.2h0"/><path d="M495.8 888.8h0"/><path d="M510.5 890.5h0"/><path d="M523.6 890.5h0"/><path d="M528 893.1h0"/><path d="M533.5 883.3h0"/><path d="M537.9 888.8h0"/><path d="M544.4 881.1h0"/><path d="M551 886.6h0"/><path d="M544.4 893.1h0"/><path d="M548.8 897.5h0"/><path d="M553.2 893.1h0"/><path d="M370.4 899.3h0"/><path d="M385.7 893.1h0"/><path d="M395.5 897.1h0"/><path d="M401 897.1h0"/><path d="M383.5 901.5h0"/><path d="M389 901.5h0"/><path d="M420.7 892.7h0"/><path d="M418.5 901.5h0"/><path d="M422.9 903h0"/><path d="M438.2 893.1h0"/><path d="M449.2 899.7h0"/><path d="M451.4 909.6h0"/><path d="M450.3 904.1h0"/><path d="M351.8 909.6h0"/><path d="M344.1 895.3h0"/><path d="M385.7 916.1h0"/><path d="M395.5 913.9h0"/><path d="M397.7 918.3h0"/><path d="M406.5 916.1h0"/><path d="M417.4 913.9h0"/><path d="M417.4 918.3h0"/><path d="M441.1 918.3h0"/><path d="M470 922.7h0"/><path d="M501.7 905.2h0"/><path d="M505 906.3h0"/><path d="M509.4 904.1h0"/><path d="M500.6 909.6h0"/><path d="M506.1 922.7h0"/><path d="M502.8 928.2h0"/><path d="M519.2 909.6h0"/><path d="M529.1 909.6h0"/><path d="M529.1 901.9h0"/><path d="M547.7 924.9h0"/><path d="M557.6 924.9h0"/><path d="M366 926h0"/><path d="M366 930.4h0"/><path d="M353.9 932.5h0"/><path d="M375.4 932.5h0"/><path d="M383.5 935.8h0"/><path d="M415.2 926.4h0"/><path d="M421.8 933h0"/><path d="M432.8 932.5h0"/><path d="M437.1 928.2h0"/><path d="M425.1 941.3h0"/><path d="M427.3 945.2h0"/><path d="M445.5 943.9h0"/><path d="M476.6 935.8h0"/><path d="M487.1 939.1h0"/><path d="M472.2 948.3h0"/><path d="M503.9 942.4h0"/><path d="M504.6 950.1h0"/><path d="M504.6 957.7h0"/><path d="M528 933.6h0"/><path d="M531.3 941.7h0"/><path d="M528 952.2h0"/><path d="M548.8 956.6h0"/><path d="M347.4 943.5h0"/><path d="M351.8 943.5h0"/><path d="M349.6 950.1h0"/><path d="M373.2 943.5h0"/><path d="M370.4 952.2h0"/><path d="M360.1 954.4h0"/><path d="M345.6 961h0"/><path d="M362.3 967.1h0"/><path d="M375.4 969.3h0"/><path d="M400.4 962.8h0"/><path d="M400.4 965.4h0"/><path d="M421.8 967.1h0"/><path d="M434.5 977.4h0"/><path d="M447 964.9h0"/><path d="M453.6 964.9h0"/><path d="M460.1 967.1h0"/><path d="M478.7 967.1h0"/><path d="M483.1 962.8h0"/><path d="M540 975.9h0"/><path d="M345.6 994.3h0"/><path d="M360.1 992.8h0"/><path d="M430.1 1003h0"/><path d="M460.1 1017.5h0"/><path d="M517.1 1017.5h0"/><path d="M523.6 1006.5h0"/><path d="M533.5 1010.9h0"/><path d="M561.9 1021.9h0"/><path d="M385.7 1013.1h0"/><path d="M391.6 1025.6h0"/><path d="M404.7 1034.3h0"/><path d="M349.6 1034.3h0"/><path d="M345.2 1040.9h0"/><path d="M441.1 1049h0"/><path d="M415.2 1057.8h0"/><path d="M456.8 1063.9h0"/><path d="M520.8 1057.8h0"/><path d="M557.6 1038.7h0"/><path d="M442.6 1078.8h0"/><path d="M455.8 1076.6h0"/><path d="M487.1 1074.4h0"/><path d="M344.1 922.7h0"/><path d="M574.9 886.6h0"/><path d="M583 882.6h0"/><path d="M573.8 881.1h0"/><path d="M589.1 895.3h0"/><path d="M593.5 897.1h0"/><path d="M582.5 899.7h0"/><path d="M583.6 903.6h0"/><path d="M623 894.9h0"/><path d="M634 907.4h0"/><path d="M647.1 907.4h0"/><path d="M648.2 911.7h0"/><path d="M654.8 893.1h0"/><path d="M655.9 896.4h0"/><path d="M661.3 881.1h0"/><path d="M680.6 886.6h0"/><path d="M683.2 894.9h0"/><path d="M697 884.4h0"/><path d="M706.2 897.1h0"/><path d="M718.3 894.9h0"/><path d="M726.6 886.6h0"/><path d="M692 903.6h0"/><path d="M690.9 909.6h0"/><path d="M713.9 903h0"/><path d="M732.5 904.1h0"/><path d="M712.1 913.9h0"/><path d="M724.4 913.9h0"/><path d="M728.8 920.5h0"/><path d="M677.8 917.2h0"/><path d="M670.1 919h0"/><path d="M666.8 926.4h0"/><path d="M688.7 928.6h0"/><path d="M575.9 912.4h0"/><path d="M596.7 927.1h0"/><path d="M597.4 932.5h0"/><path d="M595.2 934.7h0"/><path d="M631.8 931.4h0"/><path d="M638.3 937.4h0"/><path d="M644.3 931.4h0"/><path d="M652.6 931.4h0"/><path d="M652.6 937.4h0"/><path d="M667.9 944.6h0"/><path d="M672.3 947.9h0"/><path d="M676.7 947.9h0"/><path d="M690.9 943.9h0"/><path d="M724.8 939.6h0"/><path d="M726.6 948.3h0"/><path d="M592.4 952.2h0"/><path d="M597.8 949h0"/><path d="M597.4 957.7h0"/><path d="M602.2 964.9h0"/><path d="M574.2 956.6h0"/><path d="M648.2 956.6h0"/><path d="M684.3 962.8h0"/><path d="M693.1 956.6h0"/><path d="M704 961h0"/><path d="M734.7 979.6h0"/><path d="M719.3 988.4h0"/><path d="M722.2 990.6h0"/><path d="M709.5 994.3h0"/><path d="M699 1000.4h0"/><path d="M718.3 1007h0"/><path d="M722.2 1010.9h0"/><path d="M730.3 1017.5h0"/><path d="M567.6 992.8h0"/><path d="M578.1 977.4h0"/><path d="M589.1 980.7h0"/><path d="M625.2 1000.9h0"/><path d="M672.3 1004.8h0"/><path d="M678.8 1021.2h0"/><path d="M685 1018.4h0"/><path d="M585.1 1030h0"/><path d="M598.9 1057.3h0"/><path d="M665.7 1066.1h0"/><path d="M685 1055.1h0"/><path d="M723.7 1060h0"/><path d="M800.3 881.1h0"/><path d="M813.5 881.1h0"/><path d="M830.1 888.8h0"/><path d="M841.1 890.6h0"/><path d="M847.7 890.6h0"/><path d="M834.5 897.2h0"/><path d="M857.7 884.4h0"/><path d="M859.9 897.2h0"/><path d="M790.3 890.6h0"/><path d="M809.1 901.6h0"/><path d="M821.2 897.2h0"/><path d="M822.3 901.6h0"/><path d="M796.9 901.6h0"/><path d="M801.4 904.3h0"/><path d="M814.6 909.8h0"/><path d="M794.7 912h0"/><path d="M825.7 914.2h0"/><path d="M844.4 914.2h0"/><path d="M853.3 907.6h0"/><path d="M859.9 903.2h0"/><path d="M843.3 907.6h0"/><path d="M875.4 907.6h0"/><path d="M890.8 908.7h0"/><path d="M896.3 909.8h0"/><path d="M900.8 909.8h0"/><path d="M907.4 906.1h0"/><path d="M917.3 906.1h0"/><path d="M907.4 895h0"/><path d="M901.9 882.2h0"/><path d="M969.2 882.2h0"/><path d="M990.2 881.1h0"/><path d="M999.1 892.8h0"/><path d="M986.9 901.6h0"/><path d="M969.2 897.2h0"/><path d="M948.3 895h0"/><path d="M822.3 918.7h0"/><path d="M825.7 924.2h0"/><path d="M832.3 924.2h0"/><path d="M837.8 919.8h0"/><path d="M847.7 920.9h0"/><path d="M851.1 927.5h0"/><path d="M859.9 925.3h0"/><path d="M864.3 916.4h0"/><path d="M868.7 920.9h0"/><path d="M872 924.2h0"/><path d="M874.3 930.8h0"/><path d="M882 923.1h0"/><path d="M884.2 929.7h0"/><path d="M887.5 934.8h0"/><path d="M842.2 930.8h0"/><path d="M845.5 933h0"/><path d="M853.3 933h0"/><path d="M832.3 933h0"/><path d="M834.5 939.6h0"/><path d="M850 941.9h0"/><path d="M790.3 935.2h0"/><path d="M800.3 948.5h0"/><path d="M811.3 952.5h0"/><path d="M821.2 948h0"/><path d="M830.1 954.7h0"/><path d="M857.7 950.7h0"/><path d="M864.3 949.6h0"/><path d="M790.3 955.1h0"/><path d="M825.7 961.3h0"/><path d="M831.2 966.2h0"/><path d="M836.7 963.9h0"/><path d="M841.1 962.8h0"/><path d="M896.3 916.4h0"/><path d="M910.7 918.7h0"/><path d="M897.5 929h0"/><path d="M904.1 933.5h0"/><path d="M900.8 944.1h0"/><path d="M896.3 951.8h0"/><path d="M897.5 958.4h0"/><path d="M911.8 957.3h0"/><path d="M925.1 916.4h0"/><path d="M933.9 918.7h0"/><path d="M942.3 914.2h0"/><path d="M959.3 912h0"/><path d="M959.3 918.7h0"/><path d="M954.9 923.1h0"/><path d="M957.1 931.9h0"/><path d="M922.9 938.5h0"/><path d="M925.1 951.8h0"/><path d="M938.3 946.3h0"/><path d="M885.3 962.8h0"/><path d="M873.2 967.3h0"/><path d="M904.1 973.9h0"/><path d="M911.8 973.9h0"/><path d="M917.3 973.9h0"/><path d="M927.3 967.3h0"/><path d="M931.7 971.7h0"/><path d="M942.7 976.1h0"/><path d="M948.3 983.8h0"/><path d="M928.4 983.8h0"/><path d="M927.3 988.2h0"/><path d="M971.5 960.6h0"/><path d="M984.3 961.3h0"/><path d="M969.2 969.5h0"/><path d="M963.7 973.9h0"/><path d="M991.3 944.1h0"/><path d="M1003.5 944.1h0"/><path d="M1001.3 986h0"/><path d="M813.1 975.4h0"/><path d="M815.7 983.8h0"/><path d="M796.3 994.9h0"/><path d="M809.1 998.8h0"/><path d="M874.3 982.1h0"/><path d="M877.1 990.5h0"/><path d="M885.3 994.9h0"/><path d="M906.3 997.1h0"/><path d="M908.1 1002.6h0"/><path d="M894.1 1002.6h0"/><path d="M891.9 1009.2h0"/><path d="M900.1 1011.4h0"/><path d="M855.5 1004.8h0"/><path d="M927.3 1001.1h0"/><path d="M936.1 999.3h0"/><path d="M939.4 1012.1h0"/><path d="M929.5 1017.4h0"/><path d="M922.2 1020.3h0"/><path d="M954.9 1019.6h0"/><path d="M961.5 1025.8h0"/><path d="M982.5 1019.6h0"/><path d="M999.1 1009.2h0"/><path d="M815.3 1017.4h0"/><path d="M834.5 1013.2h0"/><path d="M874.9 1015.2h0"/><path d="M887.5 1027.6h0"/><path d="M827.9 1032.4h0"/><path d="M792.5 1036.8h0"/><path d="M806.9 1040.8h0"/><path d="M832.3 1049h0"/><path d="M836.7 1053.4h0"/><path d="M912.9 1043h0"/><path d="M942.7 1047.2h0"/><path d="M950.5 1036.8h0"/><path d="M954.9 1049.7h0"/><path d="M961.5 1045.2h0"/><path d="M968.1 1047.4h0"/><path d="M990.2 1045.2h0"/><path d="M994.7 1046.8h0"/><path d="M819.7 1068.4h0"/><path d="M864.3 1076.6h0"/><path d="M885.3 1066.7h0"/><path d="M910.7 1066.7h0"/><path d="M917.3 1074.8h0"/><path d="M937.2 1072.6h0"/><path d="M946.1 1066.7h0"/><path d="M950.5 1066.7h0"/><path d="M959.3 1072.6h0"/><path d="M968.1 1074.8h0"/><path d="M980.3 1060h0"/><path d="M1003.5 1066.7h0"/><path d="M899.7 1088.8h0"/><path d="M921.8 1083.2h0"/><path d="M919.5 1087.7h0"/><path d="M218.2 1096.1h0"/><path d="M273.4 1102.3h0"/><path d="M315.9 1112.8h0"/><path d="M182.3 1136h0"/><path d="M248 1155.7h0"/><path d="M292.6 1151.3h0"/><path d="M286.5 1172.3h0"/><path d="M157.3 1199.5h0"/><path d="M193.2 1195.1h0"/><path d="M224.8 1220.5h0"/><path d="M213.8 1235.4h0"/><path d="M246.2 1254.6h0"/><path d="M283.9 1245.9h0"/><path d="M227 1266.9h0"/><path d="M191.1 1273.9h0"/><path d="M355.7 1229.2h0"/><path d="M372.8 1217h0"/><path d="M364.5 1281.8h0"/><path d="M402.1 1094.4h0"/><path d="M417.9 1104.4h0"/><path d="M431.9 1102.3h0"/><path d="M463.9 1117.1h0"/><path d="M434.1 1140.4h0"/><path d="M485.3 1140.4h0"/><path d="M520.3 1108.4h0"/><path d="M523 1117.1h0"/><path d="M542.2 1155.7h0"/><path d="M562.4 1172.3h0"/><path d="M562.4 1182.8h0"/><path d="M461.7 1224.9h0"/><path d="M527.3 1233.2h0"/><path d="M404.7 1256.4h0"/><path d="M397.7 1265.1h0"/><path d="M646.4 1112.9h0"/><path d="M740.9 1102.3h0"/><path d="M813.5 1111.1h0"/><path d="M823.6 1106.7h0"/><path d="M963.1 1094.4h0"/><path d="M949 1104.5h0"/><path d="M952.9 1112.9h0"/><path d="M895.8 1129.6h0"/><path d="M880.8 1140.6h0"/><path d="M924.8 1135.3h0"/><path d="M938 1140.6h0"/><path d="M788.4 1140.6h0"/><path d="M795.9 1145h0"/><path d="M817.9 1155.1h0"/><path d="M931.4 1155.1h0"/><path d="M740.9 1161.3h0"/><path d="M766.4 1161.3h0"/><path d="M669.7 1161.3h0"/><path d="M684.6 1163.9h0"/><path d="M630.1 1175.8h0"/><path d="M624.4 1163.9h0"/><path d="M576 1184.6h0"/><path d="M567.2 1187.6h0"/><path d="M567.2 1193.4h0"/><path d="M754.1 1180.2h0"/><path d="M813.5 1189h0"/><path d="M797.2 1218.4h0"/><path d="M841.2 1218.4h0"/><path d="M841.2 1229h0"/><path d="M933.6 1203.5h0"/><path d="M936.7 1206.6h0"/><path d="M956.5 1214.5h0"/><path d="M933.6 1229h0"/><path d="M925.7 1208.8h0"/><path d="M669.7 1230.7h0"/><path d="M691.2 1235.1h0"/><path d="M913.8 1242.2h0"/><path d="M908.1 1252.7h0"/><path d="M971.9 1250.5h0"/><path d="M891.8 1271.2h0"/><path d="M948.5 1273.4h0"/><path d="M993.8 1286.2h0"/><path d="M755.9 806.6h0"/><path d="M751.6 826.1h0"/><path d="M760.3 827.2h0"/><path d="M766.8 838h0"/><path d="M732.1 829.9h0"/><path d="M736.4 832.1h0"/><path d="M734.2 837.5h0"/><path d="M726.6 852.1h0"/><path d="M731 855.9h0"/><path d="M733.2 858.1h0"/><path d="M747.3 858.1h0"/><path d="M750.5 857h0"/><path d="M740.7 848.3h0"/><path d="M745.1 841.8h0"/><path d="M742.4 836.4h0"/><path d="M703.3 854.9h0"/><path d="M228 450.5h0"/><path d="M429.5 458.9h0"/><path d="M462 455.6h0"/><path d="M478.7 452.3h0"/><path d="M531.3 458.9h0"/><path d="M284.3 471.5h0"/><path d="M223.6 549.3h0"/><path d="M175.7 474.6h0"/><path d="M264 464.7h0"/><path d="M226.8 664.3h0"/><path d="M160.2 504.9h0"/><path d="M236.1 571h0"/><path d="M241.6 636.9h0"/><path d="M343.5 630.7h0"/><path d="M374.8 613.2h0"/><path d="M521.4 662.5h0"/><path d="M478.1 610.4h0"/><path d="M510.3 659.9h0"/><path d="M415.9 659.7h0"/><path d="M412.7 625.1h0"/><path d="M326.2 625.6h0"/><path d="M309.7 632.5h0"/><path d="M486.7 656.6h0"/><path d="M510.5 657.7h0"/><path d="M366.2 647.1h0"/><path d="M408.6 662.8h0"/><path d="M430.3 627.8h0"/><path d="M459.9 674.7h0"/><path d="M354 669h0"/><path d="M303.8 627.4h0"/><path d="M358.8 659.8h0"/><path d="M535.2 660h0"/><path d="M381.4 669h0"/><path d="M381.8 626h0"/><path d="M526 652.3h0"/><path d="M472.5 654.6h0"/><path d="M543.8 641.5h0"/><path d="M509.1 656.7h0"/><path d="M513.5 639.3h0"/><path d="M480.4 648.2h0"/><path d="M376.6 624.2h0"/><path d="M455 615.2h0"/><path d="M526.8 619.7h0"/><path d="M306.7 617.1h0"/><path d="M531.3 633.1h0"/><path d="M335.3 611.9h0"/><path d="M310.4 656.4h0"/><path d="M457.8 656.7h0"/><path d="M483.5 614.4h0"/><path d="M447 634.3h0"/><path d="M503.6 664.9h0"/><path d="M521.9 614.4h0"/><path d="M516.1 671.3h0"/><path d="M535.1 617.2h0"/><path d="M351.2 617.5h0"/><path d="M308.6 666.8h0"/><path d="M502.2 652.5h0"/><path d="M505.4 652.3h0"/><path d="M371.6 616.7h0"/><path d="M324.4 660.7h0"/><path d="M351 631.4h0"/><path d="M405.5 611.4h0"/><path d="M363.9 628.9h0"/><path d="M478.2 634.7h0"/><path d="M379.9 674.6h0"/><path d="M425.4 667h0"/><path d="M454 612.1h0"/><path d="M402.8 639.2h0"/><path d="M492.5 633.2h0"/><path d="M475.5 646h0"/><path d="M353.9 667.8h0"/><path d="M322.6 664.9h0"/><path d="M342.4 610.1h0"/><path d="M350.3 661.1h0"/><path d="M543.5 610.3h0"/><path d="M422.2 642.9h0"/><path d="M498.4 622.4h0"/><path d="M423.2 633.3h0"/><path d="M507.1 627.5h0"/><path d="M535 629h0"/><path d="M353.5 656.9h0"/><path d="M424.1 617.4h0"/><path d="M458.5 615.4h0"/><path d="M525.9 567.6h0"/><path d="M525.8 557.9h0"/><path d="M478.8 526.2h0"/><path d="M483 594.7h0"/><path d="M449.4 594.4h0"/><path d="M442.7 498.9h0"/><path d="M468.7 596.2h0"/><path d="M494.6 523.1h0"/><path d="M536.4 502.7h0"/><path d="M490.2 544.4h0"/><path d="M522.2 575.4h0"/><path d="M510.4 518.8h0"/><path d="M475.6 491.7h0"/><path d="M531.9 562.7h0"/><path d="M520.9 493.7h0"/><path d="M487.8 578.3h0"/><path d="M503.1 487.6h0"/><path d="M490.4 593.9h0"/><path d="M465.9 496.8h0"/><path d="M472.9 568.4h0"/><path d="M532 491.6h0"/><path d="M457 504.7h0"/><path d="M475.6 543.1h0"/><path d="M457.5 515.9h0"/><path d="M460.6 606.5h0"/><path d="M519.4 484.3h0"/><path d="M544.9 484.2h0"/><path d="M481.9 607.7h0"/><path d="M526.6 572.7h0"/><path d="M487.4 497.5h0"/><path d="M509.5 485h0"/><path d="M462.5 524.4h0"/><path d="M443.7 525.9h0"/><path d="M526.2 567.1h0"/><path d="M494.6 558.5h0"/><path d="M520.5 553.7h0"/><path d="M529.3 551.5h0"/><path d="M521.8 557h0"/><path d="M506.2 548.5h0"/><path d="M533.6 558h0"/><path d="M517.5 559.7h0"/><path d="M543.9 568.1h0"/><path d="M516.2 553.2h0"/><path d="M509.4 553.1h0"/><path d="M515.1 551.4h0"/><path d="M530.5 555.5h0"/><path d="M524.7 545.8h0"/><path d="M536.5 555.4h0"/><path d="M514.3 558h0"/><path d="M538.5 547.3h0"/><path d="M531.9 547.9h0"/><path d="M536.1 562.6h0"/><path d="M525.3 550.2h0"/><path d="M513.7 550.9h0"/><path d="M535.5 560.2h0"/><path d="M527.6 553.4h0"/><path d="M526.4 561.8h0"/><path d="M504.7 554.3h0"/><path d="M527.4 549.1h0"/><path d="M522.4 556h0"/></g><g class="o"><path d="M252.4 758h0"/><path d="M239.7 814.9h0"/><path d="M318 806.8h0"/><path d="M149 841.9h0"/><path d="M449.2 678.8h0"/><path d="M390.7 715.3h0"/><path d="M427.9 732.4h0"/><path d="M472.2 710.9h0"/><path d="M489.2 725.8h0"/><path d="M508.7 695.8h0"/><path d="M521.4 695.8h0"/><path d="M540 695.8h0"/><path d="M491.4 751.4h0"/><path d="M345.6 757.6h0"/><path d="M347.8 762h0"/><path d="M398.2 755.4h0"/><path d="M415.2 757.6h0"/><path d="M432.3 766.3h0"/><path d="M455.8 775.1h0"/><path d="M430.1 791.5h0"/><path d="M353.5 810.6h0"/><path d="M451.4 814.9h0"/><path d="M514.9 798.1h0"/><path d="M517.1 812.7h0"/><path d="M553.2 841.9h0"/><path d="M402.1 848.4h0"/><path d="M419.2 874h0"/><path d="M632.9 671.1h0"/><path d="M667.9 672.6h0"/><path d="M710.6 672.2h0"/><path d="M713.9 670h0"/><path d="M739.1 672.2h0"/><path d="M751.1 678.8h0"/><path d="M762 673.3h0"/><path d="M707.3 685.3h0"/><path d="M709.5 691.5h0"/><path d="M584.7 699.6h0"/><path d="M648.2 716h0"/><path d="M663.5 710.5h0"/><path d="M679.9 712.7h0"/><path d="M702.9 723.6h0"/><path d="M739.1 728h0"/><path d="M745.6 708.3h0"/><path d="M768.6 714.9h0"/><path d="M725.9 732.4h0"/><path d="M728.1 751h0"/><path d="M575.9 739h0"/><path d="M566.1 756.5h0"/><path d="M602.2 770.7h0"/><path d="M734.7 776.8h0"/><path d="M717.2 791.5h0"/><path d="M730.3 791.5h0"/><path d="M750 803.6h0"/><path d="M591.3 801.4h0"/><path d="M665.7 813.4h0"/><path d="M695.3 809h0"/><path d="M721.5 825.4h0"/><path d="M724.8 832h0"/><path d="M764.2 823.3h0"/><path d="M755.5 826.5h0"/><path d="M776.3 839.7h0"/><path d="M779.6 852.8h0"/><path d="M783.9 856.1h0"/><path d="M573.8 829.4h0"/><path d="M573.8 876.9h0"/><path d="M836.7 682.8h0"/><path d="M815.7 689.4h0"/><path d="M889.7 685h0"/><path d="M798.5 710.9h0"/><path d="M828.5 707.1h0"/><path d="M847.1 706.4h0"/><path d="M885.3 738.5h0"/><path d="M887.5 745.1h0"/><path d="M802.5 751.7h0"/><path d="M806.9 753.5h0"/><path d="M844.9 784.9h0"/><path d="M794.1 797.7h0"/><path d="M794.7 806.5h0"/><path d="M838.9 800.3h0"/><path d="M887.5 795.9h0"/><path d="M950.5 795.9h0"/><path d="M920.6 807h0"/><path d="M810.9 825.7h0"/><path d="M796.3 839.7h0"/><path d="M813.1 854.5h0"/><path d="M821.9 856.7h0"/><path d="M788.8 855.6h0"/><path d="M841.1 867.3h0"/><path d="M881.5 863.3h0"/><path d="M969.9 869.5h0"/><path d="M627.6 455.3h0"/><path d="M625.2 461.6h0"/><path d="M612.6 465.6h0"/><path d="M593.6 467.9h0"/><path d="M593.6 477.4h0"/><path d="M582.6 477.4h0"/><path d="M627.6 479.8h0"/><path d="M629.9 488.4h0"/><path d="M567.6 487.7h0"/><path d="M572.3 492.4h0"/><path d="M580.7 496.3h0"/><path d="M593.6 494.8h0"/><path d="M606.3 492.4h0"/><path d="M610.2 496.3h0"/><path d="M582.9 511.3h0"/><path d="M551 503.4h0"/><path d="M557.4 524h0"/><path d="M568.1 526.3h0"/><path d="M578.7 530.3h0"/><path d="M614.2 528.7h0"/><path d="M656.8 530.3h0"/><path d="M591.3 543.4h0"/><path d="M574.7 547.6h0"/><path d="M567.6 545.3h0"/><path d="M581 556.3h0"/><path d="M607.9 547.6h0"/><path d="M610.2 557.9h0"/><path d="M637.8 547.6h0"/><path d="M637.8 556.3h0"/><path d="M656.8 450.6h0"/><path d="M675.7 559.5h0"/><path d="M552.6 571h0"/><path d="M557.4 575h0"/><path d="M602.3 568.7h0"/><path d="M612.6 571h0"/><path d="M615 563.9h0"/><path d="M627.6 576.6h0"/><path d="M635.5 583.7h0"/><path d="M595.2 585.2h0"/><path d="M606.3 592.3h0"/><path d="M633.9 593.9h0"/><path d="M607.9 597.9h0"/><path d="M557.4 611.3h0"/><path d="M587.3 605.8h0"/><path d="M611 620h0"/><path d="M617.3 623.9h0"/><path d="M627.6 624.7h0"/><path d="M644.1 624.7h0"/><path d="M650.5 602.6h0"/><path d="M653.6 608.9h0"/><path d="M657.6 608.9h0"/><path d="M655.2 617.6h0"/><path d="M659.9 600.2h0"/><path d="M671.8 611.3h0"/><path d="M672.5 618.4h0"/><path d="M674.1 629.4h0"/><path d="M695.4 605h0"/><path d="M696.2 626.3h0"/><path d="M562.1 632.6h0"/><path d="M567.6 645.2h0"/><path d="M582.6 637.3h0"/><path d="M591.3 643.6h0"/><path d="M600 634.2h0"/><path d="M606.3 634.2h0"/><path d="M625.2 635.7h0"/><path d="M637.8 630.2h0"/><path d="M638.6 637.3h0"/><path d="M655.2 631.8h0"/><path d="M663.1 637.3h0"/><path d="M650.5 654.7h0"/><path d="M604.7 651.5h0"/><path d="M618.9 649.2h0"/><path d="M680.4 661h0"/><path d="M685.2 664.1h0"/><path d="M633.9 668.9h0"/><path d="M566 668.9h0"/><path d="M675.7 560.8h0"/><path d="M693.1 562.4h0"/><path d="M728.4 465.6h0"/><path d="M775.4 481.8h0"/><path d="M807.3 526.3h0"/><path d="M841.2 541.3h0"/><path d="M710.3 566.6h0"/><path d="M724.5 572.9h0"/><path d="M732.8 579.7h0"/><path d="M732.8 590h0"/><path d="M764.7 645.2h0"/><path d="M775.4 655.5h0"/><path d="M703.9 661.8h0"/><path d="M730.8 666h0"/><path d="M870.4 499.2h0"/><path d="M1005.1 496.5h0"/><path d="M903.8 577.4h0"/><path d="M967.2 619.9h0"/><path d="M901.8 651.2h0"/><path d="M404.7 956.6h0"/><path d="M410.9 997.1h0"/><path d="M537.9 908h0"/><path d="M559.7 948.3h0"/><path d="M554.9 1028.4h0"/><path d="M393.8 1088h0"/><path d="M617.1 922.7h0"/><path d="M722.2 927.1h0"/><path d="M732.5 884.4h0"/><path d="M606.2 1066.1h0"/><path d="M847.1 886.6h0"/><path d="M908.1 899.4h0"/><path d="M918.9 895h0"/><path d="M933.9 895h0"/><path d="M1005.7 882.7h0"/><path d="M880.9 930.8h0"/><path d="M891.9 973.9h0"/><path d="M942.3 988.2h0"/><path d="M936.1 1004.8h0"/><path d="M423.1 1096.1h0"/><path d="M457.3 1097.9h0"/><path d="M488.8 1179.8h0"/><path d="M623.5 1165.7h0"/><path d="M591.4 1191.2h0"/><path d="M594.9 1189h0"/><path d="M516.9 657h0"/><path d="M506.4 608h0"/><path d="M544.4 584.6h0"/><path d="M520.9 605.9h0"/><path d="M527.9 574.3h0"/><path d="M547.6 601.6h0"/><path d="M465 592.1h0"/><path d="M495.6 561.6h0"/><path d="M497.3 609.2h0"/><path d="M522.1 601.2h0"/><path d="M483.6 586.3h0"/><path d="M526 670h0"/><path d="M506.9 585.6h0"/><path d="M531.3 605.9h0"/><path d="M478.9 575.1h0"/><path d="M529.1 654.7h0"/><path d="M516.5 614.9h0"/><path d="M510 586.4h0"/><path d="M545.8 601.3h0"/><path d="M516.9 655.8h0"/><path d="M532.6 614.8h0"/><path d="M486.2 624.1h0"/><path d="M471.1 657.5h0"/><path d="M491.6 659.5h0"/><path d="M483.8 604h0"/><path d="M482.6 609.9h0"/><path d="M476.5 560.3h0"/><path d="M524.2 592.9h0"/><path d="M481.8 595.3h0"/><path d="M502.7 610.1h0"/><path d="M495 529.3h0"/><path d="M454 553.6h0"/><path d="M527.3 475.1h0"/><path d="M523.4 551.5h0"/><path d="M516.8 482.6h0"/><path d="M523.9 527h0"/><path d="M402.2 471h0"/><path d="M541.8 529h0"/></g><path d="M831.3 1212L831.3 1208L831.2 1204L831 1200L830.7 1196L830.3 1192L829.9 1188L829.4 1184.1L828.8 1180.1L828.1 1176.1L827.3 1172.2L826.5 1168.3L825.5 1164.3L824.5 1160.4L823.4 1156.6L822.3 1152.7L821 1148.8L819.7 1145L818.3 1141.2L816.8 1137.4L815.3 1133.6L813.6 1129.9L811.9 1126.1L810.2 1122.4L808.3 1118.8L806.4 1115.1L804.4 1111.5L802.3 1107.9L800.1 1104.4L797.9 1100.9L795.6 1097.4L793.3 1094L790.8 1090.5L788.3 1087.2L785.8 1083.8L783.1 1080.5L780.4 1077.3L777.7 1074.1L774.8 1070.9L771.9 1067.8L769 1064.7L766 1061.6L762.9 1058.6L759.7 1055.7L756.5 1052.8L753.3 1049.9L750 1047.1L746.6 1044.4L743.2 1041.7L739.7 1039L736.1 1036.4L732.5 1033.9L728.9 1031.4L725.2 1029L721.5 1026.6L717.7 1024.3L713.9 1022L710 1019.8L706 1017.6L702.1 1015.5L698.1 1013.5L694 1011.5L689.9 1009.6L685.8 1007.8L681.6 1006L677.4 1004.3L673.2 1002.6L668.9 1001L664.7 999.5L660.3 998L656 996.6L651.6 995.3L647.2 994L642.7 992.8L638.3 991.7L633.8 990.6L629.3 989.6L624.8 988.7L620.2 987.8L615.7 987L611.1 986.3L606.5 985.6L601.9 985L597.3 984.5L592.7 984.1L588 983.7L583.4 983.4L578.8 983.1L574.1 982.9L569.5 982.8L564.8 982.8L560.1 982.8L555.5 982.9L550.8 983.1L546.2 983.4L541.6 983.7L536.9 984.1L532.3 984.5L527.7 985L523.1 985.6L518.5 986.3L513.9 987L509.4 987.8L504.8 988.7L500.3 989.6L495.8 990.6L491.3 991.7L486.9 992.8L482.4 994L478 995.3L473.6 996.6L469.3 998L464.9 999.5L460.7 1001L456.4 1002.6L452.2 1004.3L448 1006L443.8 1007.8L439.7 1009.6L435.6 1011.5L431.5 1013.5L427.5 1015.5L423.6 1017.6L419.6 1019.8L415.7 1022L411.9 1024.3L408.1 1026.6L404.4 1029L400.7 1031.4L397.1 1033.9L393.5 1036.4L389.9 1039L386.4 1041.7L383 1044.4L379.6 1047.1L376.3 1049.9L373.1 1052.8L369.9 1055.7L366.7 1058.6L363.6 1061.6L360.6 1064.7L357.7 1067.8L354.8 1070.9L351.9 1074.1L349.2 1077.3L346.5 1080.5L343.8 1083.8L341.3 1087.2L338.8 1090.5L336.3 1094L334 1097.4L331.7 1100.9L329.5 1104.4L327.3 1107.9L325.2 1111.5L323.2 1115.1L321.3 1118.8L319.4 1122.4L317.7 1126.1L316 1129.9L314.3 1133.6L312.8 1137.4L311.3 1141.2L309.9 1145L308.6 1148.8L307.3 1152.7L306.2 1156.6L305.1 1160.4L304.1 1164.3L303.1 1168.3L302.3 1172.2L301.5 1176.1L300.8 1180.1L300.2 1184.1L299.7 1188L299.3 1192L298.9 1196L298.6 1200L298.4 1204L298.3 1208L298.2 1212L298.3 1216L298.4 1220L298.6 1224L298.9 1228L299.3 1232L299.7 1236L300.2 1239.9L300.8 1243.9L301.5 1247.9L302.3 1251.8L303.1 1255.7L304.1 1259.7L305.1 1263.6L306.2 1267.4L307.3 1271.3L308.6 1275.2L309.9 1279L311.3 1282.8L312.8 1286.6L314.3 1290.4L316 1294.1L317.7 1297.9L319.4 1301.6L321.3 1305.2L323.2 1308.9L325.2 1312.5L327.3 1316.1L329.5 1319.6L331.7 1323.1L334 1326.6L336.3 1330L338.8 1333.5L341.3 1336.8L343.8 1340.2L346.5 1343.5L349.2 1346.7L351.9 1349.9L354.8 1353.1L357.7 1356.2L360.6 1359.3L363.6 1362.4L366.7 1365.4L369.9 1368.3L373.1 1371.2L376.3 1374.1L379.6 1376.9L383 1379.6L386.4 1382.3L389.9 1385L393.5 1387.6L397.1 1390.1L400.7 1392.6L404.4 1395L408.1 1397.4L411.9 1399.7L415.7 1402L419.6 1404.2L423.6 1406.4L427.5 1408.5L431.5 1410.5L435.6 1412.5L439.7 1414.4L443.8 1416.2L448 1418L452.2 1419.7L456.4 1421.4L460.7 1423L464.9 1424.5L469.3 1426L473.6 1427.4L478 1428.7L482.4 1430L486.9 1431.2L491.3 1432.3L495.8 1433.4L500.3 1434.4L504.8 1435.3L509.4 1436.2L513.9 1437L518.5 1437.7L523.1 1438.4L527.7 1439L532.3 1439.5L536.9 1439.9L541.6 1440.3L546.2 1440.6L550.8 1440.9L555.5 1441.1L560.1 1441.2L564.8 1441.2L569.5 1441.2L574.1 1441.1L578.8 1440.9L583.4 1440.6L588 1440.3L592.7 1439.9L597.3 1439.5L601.9 1439L606.5 1438.4L611.1 1437.7L615.7 1437L620.2 1436.2L624.8 1435.3L629.3 1434.4L633.8 1433.4L638.3 1432.3L642.7 1431.2L647.2 1430L651.6 1428.7L656 1427.4L660.3 1426L664.7 1424.5L668.9 1423L673.2 1421.4L677.4 1419.7L681.6 1418L685.8 1416.2L689.9 1414.4L694 1412.5L698.1 1410.5L702.1 1408.5L706 1406.4L710 1404.2L713.9 1402L717.7 1399.7L721.5 1397.4L725.2 1395L728.9 1392.6L732.5 1390.1L736.1 1387.6L739.7 1385L743.2 1382.3L746.6 1379.6L750 1376.9L753.3 1374.1L756.5 1371.2L759.7 1368.3L762.9 1365.4L766 1362.4L769 1359.3L771.9 1356.2L774.8 1353.1L777.7 1349.9L780.4 1346.7L783.1 1343.5L785.8 1340.2L788.3 1336.8L790.8 1333.5L793.3 1330L795.6 1326.6L797.9 1323.1L800.1 1319.6L802.3 1316.1L804.4 1312.5L806.4 1308.9L808.3 1305.2L810.2 1301.6L811.9 1297.9L813.6 1294.1L815.3 1290.4L816.8 1286.6L818.3 1282.8L819.7 1279L821 1275.2L822.3 1271.3L823.4 1267.4L824.5 1263.6L825.5 1259.7L826.5 1255.7L827.3 1251.8L828.1 1247.9L828.8 1243.9L829.4 1239.9L829.9 1236L830.3 1232L830.7 1228L831 1224L831.2 1220L831.3 1216L831.3 1212" stroke="#000" stroke-width="3.1" fill="none" stroke-dasharray="11.1 4.8"/><circle cx="565.3" cy="562.6" r="11.5" fill="red"/><path d="M564.6 560.8L749.6 1288.4" stroke="#ff0000" stroke-width="3" fill="none" stroke-dasharray="11.1 4.8"/><path d="M564.9 560.8L656 1288.4" stroke="#0000ff" stroke-width="3" fill="none" stroke-dasharray="11.1 4.8"/><path d="M948.1 1221.1L946.1 1227.2L939.7 1227.2L944.9 1230.9L942.9 1237L948.1 1233.2L953.2 1237L951.3 1230.9L956.4 1227.2L950 1227.2Z" fill="green" stroke="green" stroke-width="1.5" stroke-linejoin="round"/><path d="M906.3 1152.1L904.3 1158.2L897.9 1158.2L903.1 1161.9L901.1 1168L906.3 1164.2L911.5 1168L909.5 1161.9L914.7 1158.2L908.3 1158.2Z" fill="green" stroke="green" stroke-width="1.5" stroke-linejoin="round"/><path d="M745.8 910.1L743.9 916.2L737.5 916.2L742.6 920L740.7 926L745.8 922.3L751 926L749 920L754.2 916.2L747.8 916.2Z" fill="green" stroke="green" stroke-width="1.5" stroke-linejoin="round"/><path d="M762.5 914.6L760.5 920.6L754.1 920.6L759.3 924.4L757.3 930.5L762.5 926.7L767.6 930.5L765.7 924.4L770.8 920.6L764.4 920.6Z" fill="green" stroke="green" stroke-width="1.5" stroke-linejoin="round"/><path d="M725.9 860.4L723.9 866.5L717.5 866.5L722.7 870.2L720.7 876.3L725.9 872.6L731 876.3L729 870.2L734.2 866.5L727.8 866.5Z" fill="green" stroke="green" stroke-width="1.5" stroke-linejoin="round"/><path d="M740.8 857.9L738.8 864L732.4 864L737.6 867.8L735.6 873.9L740.8 870.1L746 873.9L744 867.8L749.1 864L742.8 864Z" fill="green" stroke="green" stroke-width="1.5" stroke-linejoin="round"/><path d="M749.9 866.7L748 872.7L741.6 872.7L746.7 876.5L744.8 882.6L749.9 878.8L755.1 882.6L753.1 876.5L758.3 872.7L751.9 872.7Z" fill="green" stroke="green" stroke-width="1.5" stroke-linejoin="round"/><path d="M683 773.9L681.1 780L674.7 780L679.8 783.7L677.9 789.8L683 786.1L688.2 789.8L686.2 783.7L691.4 780L685 780Z" fill="green" stroke="green" stroke-width="1.5" stroke-linejoin="round"/><path d="M638.2 710.2L636.2 716.3L629.8 716.3L635 720L633 726.1L638.2 722.4L643.3 726.1L641.4 720L646.5 716.3L640.1 716.3Z" fill="green" stroke="green" stroke-width="1.5" stroke-linejoin="round"/><path d="M589 602.3L587 608.4L580.7 608.4L585.8 612.2L583.9 618.2L589 614.5L594.2 618.2L592.2 612.2L597.4 608.4L591 608.4Z" fill="green" stroke="green" stroke-width="1.5" stroke-linejoin="round"/><path d="M693.4 791.3L691.4 797.3L685.1 797.3L690.2 801.1L688.2 807.2L693.4 803.4L698.6 807.2L696.6 801.1L701.8 797.3L695.4 797.3Z" fill="blue" stroke="blue" stroke-width="1.5" stroke-linejoin="round"/><path d="M661.3 744.1L659.4 750.2L653 750.2L658.2 754L656.2 760L661.3 756.3L666.5 760L664.5 754L669.7 750.2L663.3 750.2Z" fill="blue" stroke="blue" stroke-width="1.5" stroke-linejoin="round"/><path d="M616.9 656.8L614.9 662.9L608.6 662.9L613.7 666.6L611.7 672.7L616.9 668.9L622.1 672.7L620.1 666.6L625.3 662.9L618.9 662.9Z" fill="blue" stroke="blue" stroke-width="1.5" stroke-linejoin="round"/><path d="M644.1 693.2L642.1 699.2L635.7 699.2L640.9 703L638.9 709.1L644.1 705.3L649.3 709.1L647.3 703L652.5 699.2L646.1 699.2Z" fill="blue" stroke="blue" stroke-width="1.5" stroke-linejoin="round"/></g><path class="tk" d="M209.9 1288.4v-8M209.9 448v8M387.9 1288.4v-8M387.9 448v8M566.3 1288.4v-8M566.3 448v8M743.3 1288.4v-8M743.3 448v8M920.7 1288.4v-8M920.7 448v8M121.3 1211.8h8M1009.9 1211.8h-8M121.3 1060.1h8M1009.9 1060.1h-8M121.3 906.1h8M1009.9 906.1h-8M121.3 753.5h8M1009.9 753.5h-8M121.3 600.5h8M1009.9 600.5h-8M121.3 448h8M1009.9 448h-8"/><path d="M121.8 447.4V1290" stroke="#444" stroke-width="3.6" fill="none"/><path d="M1009.9 447.4V1290" stroke="#222" stroke-width="3" fill="none"/><path d="M120 448.9H1011.4" stroke="#444" stroke-width="3.6" fill="none"/><path d="M120 1288.5H1011.4" stroke="#000" stroke-width="3" fill="none"/><text class="tl" x="111.2" y="1224.3" text-anchor="end">0</text><text class="tl" x="111.2" y="1072.6" text-anchor="end">2</text><text class="tl" x="111.2" y="918.6" text-anchor="end">4</text><text class="tl" x="111.2" y="766" text-anchor="end">6</text><text class="tl" x="111.2" y="613" text-anchor="end">8</text><text class="tl" x="111.2" y="460.5" text-anchor="end">10</text><text class="tl" x="209.9" y="1327.5" text-anchor="middle">−4</text><text class="tl" x="387.9" y="1327.5" text-anchor="middle">−2</text><text class="tl" x="566.3" y="1327.5" text-anchor="middle">0</text><text class="tl" x="743.3" y="1327.5" text-anchor="middle">2</text><text class="tl" x="920.7" y="1327.5" text-anchor="middle">4</text><text class="tl" x="565.6" y="1375.5" text-anchor="middle">X (kpc)</text><text class="tl" transform="translate(41 869.5) rotate(-90)" text-anchor="middle">Y (kpc)</text><rect x="137" y="461.5" width="412" height="215" rx="6" fill="rgba(255,255,255,0.8)" stroke="#cccccc" stroke-width="2"/><circle cx="174" cy="486.5" r="2.2" fill="rgba(255,165,0,0.88)"/><circle cx="174" cy="528.5" r="2.2" fill="rgba(0,0,0,0.45)"/><path d="M174 561.2L172.2 566.8L166.3 566.8L171.1 570.2L169.2 575.8L174 572.4L178.8 575.8L176.9 570.2L181.7 566.8L175.8 566.8Z" fill="blue" stroke="blue" stroke-width="1.5" stroke-linejoin="round"/><path d="M174 603.2L172.2 608.8L166.3 608.8L171.1 612.2L169.2 617.8L174 614.4L178.8 617.8L176.9 612.2L181.7 608.8L175.8 608.8Z" fill="green" stroke="green" stroke-width="1.5" stroke-linejoin="round"/><circle cx="174" cy="651.3" r="11.8" fill="red"/><text class="lg" transform="translate(222.3 493.1) scale(1.155 1)">Known MSPs</text><text class="lg" transform="translate(222.3 534.3) scale(1.152 1)">Known Normal Pulsars</text><text class="lg" transform="translate(222.3 575.5) scale(1.15 1)">New MSPs</text><text class="lg" transform="translate(222.3 616.6) scale(1.148 1)">New Normal Pulsars</text><text class="lg" transform="translate(225.6 657.8) scale(1.15 1)">Sun</text></svg></body></html>
